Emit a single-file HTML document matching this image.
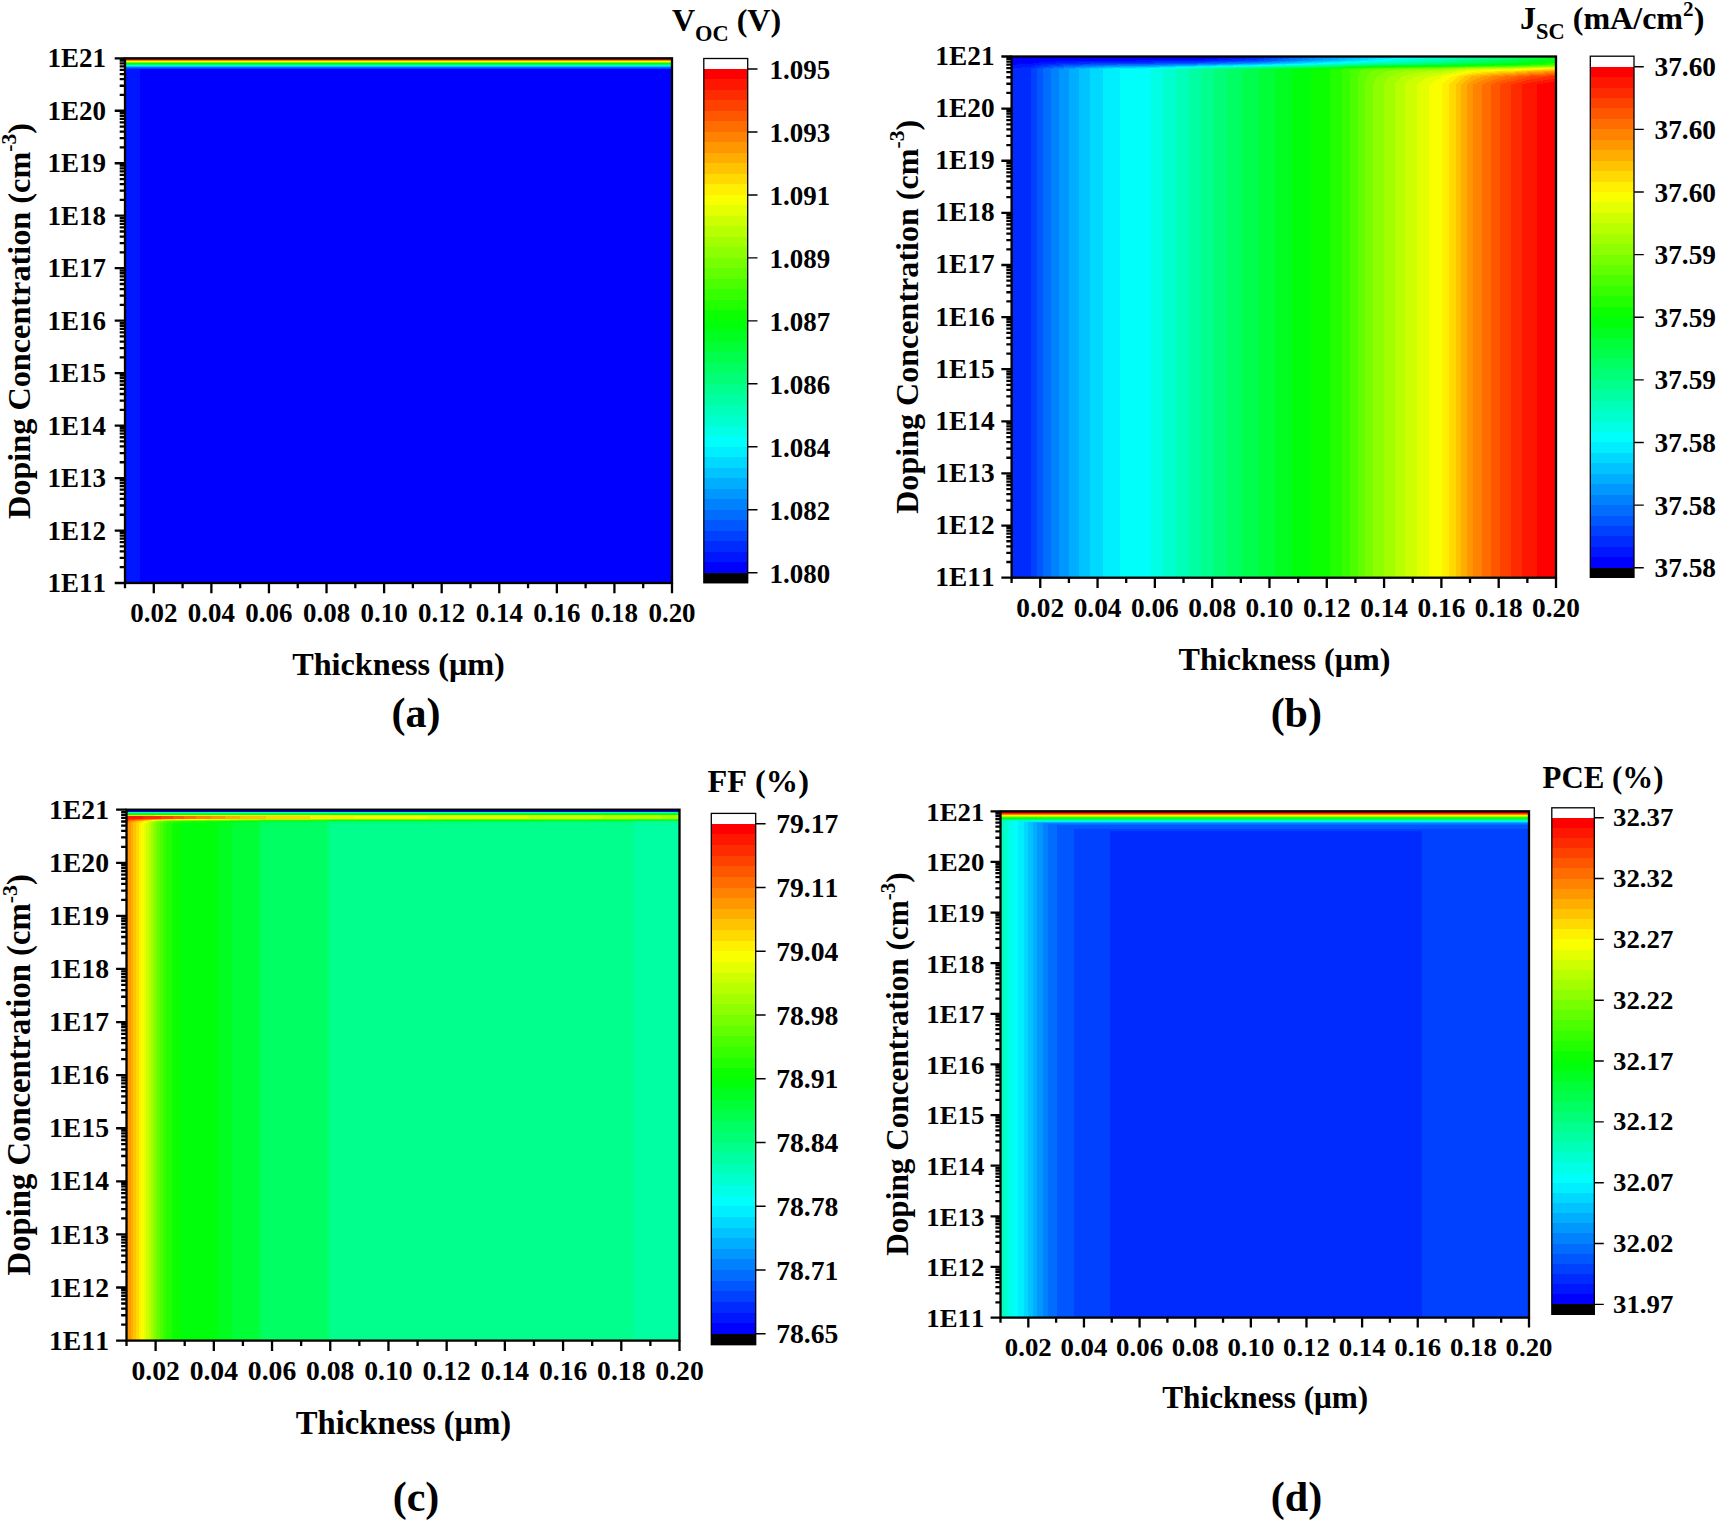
<!DOCTYPE html>
<html lang="en"><head><meta charset="utf-8"><title>Doping concentration vs thickness contour maps</title>
<style>html,body{margin:0;padding:0;background:#fff}body{width:1716px;height:1521px;overflow:hidden}svg{display:block}text{font-family:"Liberation Serif", "DejaVu Serif", serif;font-weight:bold;fill:#000;font-kerning:none;font-variant-ligatures:none}</style></head><body>
<svg width="1716" height="1521" viewBox="0 0 1716 1521">
<rect width="1716" height="1521" fill="#fff"/>
<g id="panel-a">
<g shape-rendering="crispEdges">
<rect x="125" y="58" width="547" height="1" fill="#ff0000"/>
<rect x="125" y="59" width="547" height="1" fill="#ff1600"/>
<rect x="125" y="60" width="547" height="1" fill="#ff8200"/>
<rect x="125" y="61" width="547" height="1" fill="#faff00"/>
<rect x="125" y="62" width="547" height="1" fill="#77ff00"/>
<rect x="125" y="63" width="547" height="1" fill="#00ff0b"/>
<rect x="125" y="64" width="547" height="1" fill="#00ff62"/>
<rect x="125" y="65" width="547" height="1" fill="#00ffce"/>
<rect x="125" y="66" width="547" height="1" fill="#00c3ff"/>
<rect x="125" y="67" width="547" height="1" fill="#006dff"/>
<rect x="125" y="68" width="547" height="1" fill="#0041ff"/>
<rect x="125" y="69" width="15" height="514" fill="#0016ff"/>
<rect x="140" y="69" width="532" height="514" fill="#0000ff"/>
</g>
<rect x="125" y="58.3" width="547" height="524.7" fill="none" stroke="#000" stroke-width="2.3"/>
<path d="M125 583H114.7M125 567.2H119.7M125 557.97H119.7M125 551.41H119.7M125 546.33H119.7M125 542.17H119.7M125 538.66H119.7M125 535.61H119.7M125 532.93H119.7M125 530.53H114.7M125 514.73H119.7M125 505.5H119.7M125 498.94H119.7M125 493.86H119.7M125 489.7H119.7M125 486.19H119.7M125 483.14H119.7M125 480.46H119.7M125 478.06H114.7M125 462.26H119.7M125 453.03H119.7M125 446.47H119.7M125 441.39H119.7M125 437.23H119.7M125 433.72H119.7M125 430.67H119.7M125 427.99H119.7M125 425.59H114.7M125 409.79H119.7M125 400.56H119.7M125 394H119.7M125 388.92H119.7M125 384.76H119.7M125 381.25H119.7M125 378.2H119.7M125 375.52H119.7M125 373.12H114.7M125 357.32H119.7M125 348.09H119.7M125 341.53H119.7M125 336.45H119.7M125 332.29H119.7M125 328.78H119.7M125 325.73H119.7M125 323.05H119.7M125 320.65H114.7M125 304.85H119.7M125 295.62H119.7M125 289.06H119.7M125 283.98H119.7M125 279.82H119.7M125 276.31H119.7M125 273.26H119.7M125 270.58H119.7M125 268.18H114.7M125 252.38H119.7M125 243.15H119.7M125 236.59H119.7M125 231.51H119.7M125 227.35H119.7M125 223.84H119.7M125 220.79H119.7M125 218.11H119.7M125 215.71H114.7M125 199.91H119.7M125 190.68H119.7M125 184.12H119.7M125 179.04H119.7M125 174.88H119.7M125 171.37H119.7M125 168.32H119.7M125 165.64H119.7M125 163.24H114.7M125 147.44H119.7M125 138.21H119.7M125 131.65H119.7M125 126.57H119.7M125 122.41H119.7M125 118.9H119.7M125 115.85H119.7M125 113.17H119.7M125 110.77H114.7M125 94.97H119.7M125 85.74H119.7M125 79.18H119.7M125 74.1H119.7M125 69.94H119.7M125 66.43H119.7M125 63.38H119.7M125 60.7H119.7M125 58.3H114.7M125 583V588.3M153.79 583V593.3M182.58 583V588.3M211.37 583V593.3M240.16 583V588.3M268.95 583V593.3M297.74 583V588.3M326.53 583V593.3M355.32 583V588.3M384.11 583V593.3M412.89 583V588.3M441.68 583V593.3M470.47 583V588.3M499.26 583V593.3M528.05 583V588.3M556.84 583V593.3M585.63 583V588.3M614.42 583V593.3M643.21 583V588.3M672 583V593.3" stroke="#000" stroke-width="2.3" fill="none"/>
<g font-size="26.7">
<text transform="translate(47.56 592.02) scale(1.01 1)">1E11</text>
<text transform="translate(47.56 539.55) scale(1.01 1)">1E12</text>
<text transform="translate(47.56 487.08) scale(1.01 1)">1E13</text>
<text transform="translate(47.56 434.61) scale(1.01 1)">1E14</text>
<text transform="translate(47.56 382.14) scale(1.01 1)">1E15</text>
<text transform="translate(47.56 329.67) scale(1.01 1)">1E16</text>
<text transform="translate(47.56 277.2) scale(1.01 1)">1E17</text>
<text transform="translate(47.56 224.73) scale(1.01 1)">1E18</text>
<text transform="translate(47.56 172.26) scale(1.01 1)">1E19</text>
<text transform="translate(47.56 119.79) scale(1.01 1)">1E20</text>
<text transform="translate(47.56 67.32) scale(1.01 1)">1E21</text>
</g>
<g font-size="26.7" text-anchor="middle">
<text transform="translate(153.79 621.65) scale(1.01 1)">0.02</text>
<text transform="translate(211.37 621.65) scale(1.01 1)">0.04</text>
<text transform="translate(268.95 621.65) scale(1.01 1)">0.06</text>
<text transform="translate(326.53 621.65) scale(1.01 1)">0.08</text>
<text transform="translate(384.11 621.65) scale(1.01 1)">0.10</text>
<text transform="translate(441.68 621.65) scale(1.01 1)">0.12</text>
<text transform="translate(499.26 621.65) scale(1.01 1)">0.14</text>
<text transform="translate(556.84 621.65) scale(1.01 1)">0.16</text>
<text transform="translate(614.42 621.65) scale(1.01 1)">0.18</text>
<text transform="translate(672 621.65) scale(1.01 1)">0.20</text>
</g>
<text x="398.5" y="674.6" font-size="32.26" text-anchor="middle">Thickness (μm)</text>
<text transform="translate(29.5 519) rotate(-90)" font-size="32.26">Doping Concentration (cm<tspan dy="-13.55" font-size="21.61">-3</tspan><tspan dy="13.55">)</tspan></text>
<text x="416" y="727" font-size="42" text-anchor="middle">(a)</text>
<g shape-rendering="crispEdges">
<rect x="704" y="69" width="44" height="10" fill="#ff0000"/>
<rect x="704" y="79" width="44" height="11" fill="#ff1600"/>
<rect x="704" y="90" width="44" height="10" fill="#ff2b00"/>
<rect x="704" y="100" width="44" height="11" fill="#ff4100"/>
<rect x="704" y="111" width="44" height="10" fill="#ff5700"/>
<rect x="704" y="121" width="44" height="11" fill="#ff6d00"/>
<rect x="704" y="132" width="44" height="10" fill="#ff8200"/>
<rect x="704" y="142" width="44" height="11" fill="#ff9800"/>
<rect x="704" y="153" width="44" height="10" fill="#ffae00"/>
<rect x="704" y="163" width="44" height="11" fill="#ffc300"/>
<rect x="704" y="174" width="44" height="10" fill="#ffd900"/>
<rect x="704" y="184" width="44" height="11" fill="#ffef00"/>
<rect x="704" y="195" width="44" height="10" fill="#faff00"/>
<rect x="704" y="205" width="44" height="11" fill="#e4ff00"/>
<rect x="704" y="216" width="44" height="10" fill="#ceff00"/>
<rect x="704" y="226" width="44" height="11" fill="#b8ff00"/>
<rect x="704" y="237" width="44" height="10" fill="#a3ff00"/>
<rect x="704" y="247" width="44" height="11" fill="#8dff00"/>
<rect x="704" y="258" width="44" height="10" fill="#77ff00"/>
<rect x="704" y="268" width="44" height="11" fill="#62ff00"/>
<rect x="704" y="279" width="44" height="10" fill="#4cff00"/>
<rect x="704" y="289" width="44" height="11" fill="#36ff00"/>
<rect x="704" y="300" width="44" height="10" fill="#21ff00"/>
<rect x="704" y="310" width="44" height="11" fill="#0bff00"/>
<rect x="704" y="321" width="44" height="10" fill="#00ff0b"/>
<rect x="704" y="331" width="44" height="11" fill="#00ff21"/>
<rect x="704" y="342" width="44" height="10" fill="#00ff36"/>
<rect x="704" y="352" width="44" height="11" fill="#00ff4c"/>
<rect x="704" y="363" width="44" height="10" fill="#00ff62"/>
<rect x="704" y="373" width="44" height="11" fill="#00ff77"/>
<rect x="704" y="384" width="44" height="10" fill="#00ff8d"/>
<rect x="704" y="394" width="44" height="11" fill="#00ffa3"/>
<rect x="704" y="405" width="44" height="10" fill="#00ffb8"/>
<rect x="704" y="415" width="44" height="11" fill="#00ffce"/>
<rect x="704" y="426" width="44" height="10" fill="#00ffe4"/>
<rect x="704" y="436" width="44" height="11" fill="#00fffa"/>
<rect x="704" y="447" width="44" height="10" fill="#00efff"/>
<rect x="704" y="457" width="44" height="11" fill="#00d9ff"/>
<rect x="704" y="468" width="44" height="10" fill="#00c3ff"/>
<rect x="704" y="478" width="44" height="11" fill="#00aeff"/>
<rect x="704" y="489" width="44" height="10" fill="#0098ff"/>
<rect x="704" y="499" width="44" height="11" fill="#0082ff"/>
<rect x="704" y="510" width="44" height="10" fill="#006dff"/>
<rect x="704" y="520" width="44" height="11" fill="#0057ff"/>
<rect x="704" y="531" width="44" height="10" fill="#0041ff"/>
<rect x="704" y="541" width="44" height="11" fill="#002bff"/>
<rect x="704" y="552" width="44" height="10" fill="#0016ff"/>
<rect x="704" y="562" width="44" height="11" fill="#0000ff"/>
<rect x="704" y="573" width="44" height="10" fill="#000"/>
</g>
<rect x="703.8" y="58.5" width="43.9" height="524.3" fill="none" stroke="#000" stroke-width="1.3"/>
<g font-size="26.7">
<text transform="translate(769.5 79.22) scale(1.01 1)">1.095</text>
<text transform="translate(769.5 142.19) scale(1.01 1)">1.093</text>
<text transform="translate(769.5 205.15) scale(1.01 1)">1.091</text>
<text transform="translate(769.5 268.11) scale(1.01 1)">1.089</text>
<text transform="translate(769.5 331.07) scale(1.01 1)">1.087</text>
<text transform="translate(769.5 394.04) scale(1.01 1)">1.086</text>
<text transform="translate(769.5 457) scale(1.01 1)">1.084</text>
<text transform="translate(769.5 519.96) scale(1.01 1)">1.082</text>
<text transform="translate(769.5 582.92) scale(1.01 1)">1.080</text>
</g>
<path d="M748 69H757.5M748 131.96H757.5M748 194.93H757.5M748 257.89H757.5M748 320.85H757.5M748 383.81H757.5M748 446.78H757.5M748 509.74H757.5M748 572.7H757.5" stroke="#000" stroke-width="1.4" fill="none"/>
<text x="672" y="31.3" font-size="32">V<tspan dy="9.28" font-size="22.4">OC</tspan><tspan dy="-9.28"> (V)</tspan></text>
</g>
<g id="panel-b">
<g shape-rendering="crispEdges">
<rect x="1011" y="56" width="219" height="2" fill="#0000ff"/>
<rect x="1230" y="56" width="28" height="2" fill="#0016ff"/>
<rect x="1258" y="56" width="12" height="2" fill="#002bff"/>
<rect x="1270" y="56" width="13" height="2" fill="#0041ff"/>
<rect x="1283" y="56" width="12" height="2" fill="#0057ff"/>
<rect x="1295" y="56" width="13" height="2" fill="#006dff"/>
<rect x="1308" y="56" width="15" height="2" fill="#0082ff"/>
<rect x="1323" y="56" width="15" height="2" fill="#0098ff"/>
<rect x="1338" y="56" width="15" height="2" fill="#00aeff"/>
<rect x="1353" y="56" width="15" height="2" fill="#00c3ff"/>
<rect x="1368" y="56" width="15" height="2" fill="#00d9ff"/>
<rect x="1383" y="56" width="15" height="2" fill="#00efff"/>
<rect x="1398" y="56" width="17" height="2" fill="#00fffa"/>
<rect x="1415" y="56" width="17" height="2" fill="#00ffe4"/>
<rect x="1432" y="56" width="17" height="2" fill="#00ffce"/>
<rect x="1449" y="56" width="16" height="2" fill="#00ffb8"/>
<rect x="1465" y="56" width="16" height="2" fill="#00ffa3"/>
<rect x="1481" y="56" width="17" height="2" fill="#00ff8d"/>
<rect x="1498" y="56" width="14" height="2" fill="#00ff77"/>
<rect x="1512" y="56" width="15" height="2" fill="#00ff62"/>
<rect x="1527" y="56" width="14" height="2" fill="#00ff4c"/>
<rect x="1541" y="56" width="14" height="2" fill="#00ff36"/>
<rect x="1555" y="56" width="1" height="2" fill="#00ff21"/>
<rect x="1011" y="58" width="206" height="1" fill="#0000ff"/>
<rect x="1217" y="58" width="28" height="1" fill="#0016ff"/>
<rect x="1245" y="58" width="19" height="1" fill="#002bff"/>
<rect x="1264" y="58" width="13" height="1" fill="#0041ff"/>
<rect x="1277" y="58" width="12" height="1" fill="#0057ff"/>
<rect x="1289" y="58" width="13" height="1" fill="#006dff"/>
<rect x="1302" y="58" width="13" height="1" fill="#0082ff"/>
<rect x="1315" y="58" width="16" height="1" fill="#0098ff"/>
<rect x="1331" y="58" width="15" height="1" fill="#00aeff"/>
<rect x="1346" y="58" width="14" height="1" fill="#00c3ff"/>
<rect x="1360" y="58" width="15" height="1" fill="#00d9ff"/>
<rect x="1375" y="58" width="16" height="1" fill="#00efff"/>
<rect x="1391" y="58" width="16" height="1" fill="#00fffa"/>
<rect x="1407" y="58" width="17" height="1" fill="#00ffe4"/>
<rect x="1424" y="58" width="17" height="1" fill="#00ffce"/>
<rect x="1441" y="58" width="16" height="1" fill="#00ffb8"/>
<rect x="1457" y="58" width="16" height="1" fill="#00ffa3"/>
<rect x="1473" y="58" width="16" height="1" fill="#00ff8d"/>
<rect x="1489" y="58" width="16" height="1" fill="#00ff77"/>
<rect x="1505" y="58" width="14" height="1" fill="#00ff62"/>
<rect x="1519" y="58" width="14" height="1" fill="#00ff4c"/>
<rect x="1533" y="58" width="14" height="1" fill="#00ff36"/>
<rect x="1547" y="58" width="9" height="1" fill="#00ff21"/>
<rect x="1011" y="59" width="194" height="1" fill="#0000ff"/>
<rect x="1205" y="59" width="26" height="1" fill="#0016ff"/>
<rect x="1231" y="59" width="26" height="1" fill="#002bff"/>
<rect x="1257" y="59" width="13" height="1" fill="#0041ff"/>
<rect x="1270" y="59" width="13" height="1" fill="#0057ff"/>
<rect x="1283" y="59" width="13" height="1" fill="#006dff"/>
<rect x="1296" y="59" width="13" height="1" fill="#0082ff"/>
<rect x="1309" y="59" width="14" height="1" fill="#0098ff"/>
<rect x="1323" y="59" width="16" height="1" fill="#00aeff"/>
<rect x="1339" y="59" width="14" height="1" fill="#00c3ff"/>
<rect x="1353" y="59" width="15" height="1" fill="#00d9ff"/>
<rect x="1368" y="59" width="15" height="1" fill="#00efff"/>
<rect x="1383" y="59" width="15" height="1" fill="#00fffa"/>
<rect x="1398" y="59" width="17" height="1" fill="#00ffe4"/>
<rect x="1415" y="59" width="17" height="1" fill="#00ffce"/>
<rect x="1432" y="59" width="17" height="1" fill="#00ffb8"/>
<rect x="1449" y="59" width="16" height="1" fill="#00ffa3"/>
<rect x="1465" y="59" width="16" height="1" fill="#00ff8d"/>
<rect x="1481" y="59" width="16" height="1" fill="#00ff77"/>
<rect x="1497" y="59" width="15" height="1" fill="#00ff62"/>
<rect x="1512" y="59" width="14" height="1" fill="#00ff4c"/>
<rect x="1526" y="59" width="14" height="1" fill="#00ff36"/>
<rect x="1540" y="59" width="14" height="1" fill="#00ff21"/>
<rect x="1554" y="59" width="2" height="1" fill="#00ff0b"/>
<rect x="1011" y="60" width="125" height="1" fill="#0000ff"/>
<rect x="1136" y="60" width="83" height="1" fill="#0016ff"/>
<rect x="1219" y="60" width="26" height="1" fill="#002bff"/>
<rect x="1245" y="60" width="19" height="1" fill="#0041ff"/>
<rect x="1264" y="60" width="13" height="1" fill="#0057ff"/>
<rect x="1277" y="60" width="13" height="1" fill="#006dff"/>
<rect x="1290" y="60" width="12" height="1" fill="#0082ff"/>
<rect x="1302" y="60" width="14" height="1" fill="#0098ff"/>
<rect x="1316" y="60" width="16" height="1" fill="#00aeff"/>
<rect x="1332" y="60" width="14" height="1" fill="#00c3ff"/>
<rect x="1346" y="60" width="15" height="1" fill="#00d9ff"/>
<rect x="1361" y="60" width="14" height="1" fill="#00efff"/>
<rect x="1375" y="60" width="15" height="1" fill="#00fffa"/>
<rect x="1390" y="60" width="17" height="1" fill="#00ffe4"/>
<rect x="1407" y="60" width="17" height="1" fill="#00ffce"/>
<rect x="1424" y="60" width="17" height="1" fill="#00ffb8"/>
<rect x="1441" y="60" width="16" height="1" fill="#00ffa3"/>
<rect x="1457" y="60" width="15" height="1" fill="#00ff8d"/>
<rect x="1472" y="60" width="16" height="1" fill="#00ff77"/>
<rect x="1488" y="60" width="16" height="1" fill="#00ff62"/>
<rect x="1504" y="60" width="14" height="1" fill="#00ff4c"/>
<rect x="1518" y="60" width="14" height="1" fill="#00ff36"/>
<rect x="1532" y="60" width="15" height="1" fill="#00ff21"/>
<rect x="1547" y="60" width="9" height="1" fill="#00ff0b"/>
<rect x="1011" y="61" width="44" height="1" fill="#0000ff"/>
<rect x="1055" y="61" width="96" height="1" fill="#0016ff"/>
<rect x="1151" y="61" width="60" height="1" fill="#002bff"/>
<rect x="1211" y="61" width="25" height="1" fill="#0041ff"/>
<rect x="1236" y="61" width="23" height="1" fill="#0057ff"/>
<rect x="1259" y="61" width="13" height="1" fill="#006dff"/>
<rect x="1272" y="61" width="13" height="1" fill="#0082ff"/>
<rect x="1285" y="61" width="13" height="1" fill="#0098ff"/>
<rect x="1298" y="61" width="14" height="1" fill="#00aeff"/>
<rect x="1312" y="61" width="15" height="1" fill="#00c3ff"/>
<rect x="1327" y="61" width="15" height="1" fill="#00d9ff"/>
<rect x="1342" y="61" width="14" height="1" fill="#00efff"/>
<rect x="1356" y="61" width="15" height="1" fill="#00fffa"/>
<rect x="1371" y="61" width="16" height="1" fill="#00ffe4"/>
<rect x="1387" y="61" width="17" height="1" fill="#00ffce"/>
<rect x="1404" y="61" width="19" height="1" fill="#00ffb8"/>
<rect x="1423" y="61" width="19" height="1" fill="#00ffa3"/>
<rect x="1442" y="61" width="17" height="1" fill="#00ff8d"/>
<rect x="1459" y="61" width="16" height="1" fill="#00ff77"/>
<rect x="1475" y="61" width="18" height="1" fill="#00ff62"/>
<rect x="1493" y="61" width="18" height="1" fill="#00ff4c"/>
<rect x="1511" y="61" width="14" height="1" fill="#00ff36"/>
<rect x="1525" y="61" width="14" height="1" fill="#00ff21"/>
<rect x="1539" y="61" width="15" height="1" fill="#00ff0b"/>
<rect x="1554" y="61" width="2" height="1" fill="#0bff00"/>
<rect x="1011" y="62" width="28" height="1" fill="#0000ff"/>
<rect x="1039" y="62" width="38" height="1" fill="#0016ff"/>
<rect x="1077" y="62" width="77" height="1" fill="#002bff"/>
<rect x="1154" y="62" width="51" height="1" fill="#0041ff"/>
<rect x="1205" y="62" width="22" height="1" fill="#0057ff"/>
<rect x="1227" y="62" width="24" height="1" fill="#006dff"/>
<rect x="1251" y="62" width="16" height="1" fill="#0082ff"/>
<rect x="1267" y="62" width="13" height="1" fill="#0098ff"/>
<rect x="1280" y="62" width="14" height="1" fill="#00aeff"/>
<rect x="1294" y="62" width="13" height="1" fill="#00c3ff"/>
<rect x="1307" y="62" width="16" height="1" fill="#00d9ff"/>
<rect x="1323" y="62" width="15" height="1" fill="#00efff"/>
<rect x="1338" y="62" width="13" height="1" fill="#00fffa"/>
<rect x="1351" y="62" width="15" height="1" fill="#00ffe4"/>
<rect x="1366" y="62" width="17" height="1" fill="#00ffce"/>
<rect x="1383" y="62" width="18" height="1" fill="#00ffb8"/>
<rect x="1401" y="62" width="21" height="1" fill="#00ffa3"/>
<rect x="1422" y="62" width="22" height="1" fill="#00ff8d"/>
<rect x="1444" y="62" width="17" height="1" fill="#00ff77"/>
<rect x="1461" y="62" width="19" height="1" fill="#00ff62"/>
<rect x="1480" y="62" width="20" height="1" fill="#00ff4c"/>
<rect x="1500" y="62" width="18" height="1" fill="#00ff36"/>
<rect x="1518" y="62" width="14" height="1" fill="#00ff21"/>
<rect x="1532" y="62" width="14" height="1" fill="#00ff0b"/>
<rect x="1546" y="62" width="10" height="1" fill="#0bff00"/>
<rect x="1011" y="63" width="22" height="1" fill="#0000ff"/>
<rect x="1033" y="63" width="23" height="1" fill="#0016ff"/>
<rect x="1056" y="63" width="34" height="1" fill="#002bff"/>
<rect x="1090" y="63" width="65" height="1" fill="#0041ff"/>
<rect x="1155" y="63" width="42" height="1" fill="#0057ff"/>
<rect x="1197" y="63" width="23" height="1" fill="#006dff"/>
<rect x="1220" y="63" width="23" height="1" fill="#0082ff"/>
<rect x="1243" y="63" width="19" height="1" fill="#0098ff"/>
<rect x="1262" y="63" width="13" height="1" fill="#00aeff"/>
<rect x="1275" y="63" width="14" height="1" fill="#00c3ff"/>
<rect x="1289" y="63" width="14" height="1" fill="#00d9ff"/>
<rect x="1303" y="63" width="15" height="1" fill="#00efff"/>
<rect x="1318" y="63" width="16" height="1" fill="#00fffa"/>
<rect x="1334" y="63" width="13" height="1" fill="#00ffe4"/>
<rect x="1347" y="63" width="14" height="1" fill="#00ffce"/>
<rect x="1361" y="63" width="16" height="1" fill="#00ffb8"/>
<rect x="1377" y="63" width="19" height="1" fill="#00ffa3"/>
<rect x="1396" y="63" width="21" height="1" fill="#00ff8d"/>
<rect x="1417" y="63" width="24" height="1" fill="#00ff77"/>
<rect x="1441" y="63" width="18" height="1" fill="#00ff62"/>
<rect x="1459" y="63" width="17" height="1" fill="#00ff4c"/>
<rect x="1476" y="63" width="22" height="1" fill="#00ff36"/>
<rect x="1498" y="63" width="19" height="1" fill="#00ff21"/>
<rect x="1517" y="63" width="14" height="1" fill="#00ff0b"/>
<rect x="1531" y="63" width="15" height="1" fill="#0bff00"/>
<rect x="1546" y="63" width="10" height="1" fill="#21ff00"/>
<rect x="1011" y="64" width="6" height="1" fill="#0000ff"/>
<rect x="1017" y="64" width="24" height="1" fill="#0016ff"/>
<rect x="1041" y="64" width="19" height="1" fill="#002bff"/>
<rect x="1060" y="64" width="24" height="1" fill="#0041ff"/>
<rect x="1084" y="64" width="33" height="1" fill="#0057ff"/>
<rect x="1117" y="64" width="50" height="1" fill="#006dff"/>
<rect x="1167" y="64" width="30" height="1" fill="#0082ff"/>
<rect x="1197" y="64" width="21" height="1" fill="#0098ff"/>
<rect x="1218" y="64" width="20" height="1" fill="#00aeff"/>
<rect x="1238" y="64" width="20" height="1" fill="#00c3ff"/>
<rect x="1258" y="64" width="14" height="1" fill="#00d9ff"/>
<rect x="1272" y="64" width="14" height="1" fill="#00efff"/>
<rect x="1286" y="64" width="15" height="1" fill="#00fffa"/>
<rect x="1301" y="64" width="15" height="1" fill="#00ffe4"/>
<rect x="1316" y="64" width="16" height="1" fill="#00ffce"/>
<rect x="1332" y="64" width="13" height="1" fill="#00ffb8"/>
<rect x="1345" y="64" width="14" height="1" fill="#00ffa3"/>
<rect x="1359" y="64" width="16" height="1" fill="#00ff8d"/>
<rect x="1375" y="64" width="22" height="1" fill="#00ff77"/>
<rect x="1397" y="64" width="26" height="1" fill="#00ff62"/>
<rect x="1423" y="64" width="26" height="1" fill="#00ff4c"/>
<rect x="1449" y="64" width="18" height="1" fill="#00ff36"/>
<rect x="1467" y="64" width="25" height="1" fill="#00ff21"/>
<rect x="1492" y="64" width="24" height="1" fill="#00ff0b"/>
<rect x="1516" y="64" width="14" height="1" fill="#0bff00"/>
<rect x="1530" y="64" width="15" height="1" fill="#21ff00"/>
<rect x="1545" y="64" width="11" height="1" fill="#36ff00"/>
<rect x="1011" y="65" width="24" height="1" fill="#0016ff"/>
<rect x="1035" y="65" width="13" height="1" fill="#002bff"/>
<rect x="1048" y="65" width="15" height="1" fill="#0041ff"/>
<rect x="1063" y="65" width="19" height="1" fill="#0057ff"/>
<rect x="1082" y="65" width="22" height="1" fill="#006dff"/>
<rect x="1104" y="65" width="46" height="1" fill="#0082ff"/>
<rect x="1150" y="65" width="24" height="1" fill="#0098ff"/>
<rect x="1174" y="65" width="23" height="1" fill="#00aeff"/>
<rect x="1197" y="65" width="19" height="1" fill="#00c3ff"/>
<rect x="1216" y="65" width="17" height="1" fill="#00d9ff"/>
<rect x="1233" y="65" width="20" height="1" fill="#00efff"/>
<rect x="1253" y="65" width="16" height="1" fill="#00fffa"/>
<rect x="1269" y="65" width="14" height="1" fill="#00ffe4"/>
<rect x="1283" y="65" width="15" height="1" fill="#00ffce"/>
<rect x="1298" y="65" width="16" height="1" fill="#00ffb8"/>
<rect x="1314" y="65" width="17" height="1" fill="#00ffa3"/>
<rect x="1331" y="65" width="13" height="1" fill="#00ff8d"/>
<rect x="1344" y="65" width="12" height="1" fill="#00ff77"/>
<rect x="1356" y="65" width="15" height="1" fill="#00ff62"/>
<rect x="1371" y="65" width="22" height="1" fill="#00ff4c"/>
<rect x="1393" y="65" width="28" height="1" fill="#00ff36"/>
<rect x="1421" y="65" width="28" height="1" fill="#00ff21"/>
<rect x="1449" y="65" width="18" height="1" fill="#00ff0b"/>
<rect x="1467" y="65" width="27" height="1" fill="#0bff00"/>
<rect x="1494" y="65" width="25" height="1" fill="#21ff00"/>
<rect x="1519" y="65" width="13" height="1" fill="#36ff00"/>
<rect x="1532" y="65" width="16" height="1" fill="#4cff00"/>
<rect x="1548" y="65" width="8" height="1" fill="#62ff00"/>
<rect x="1011" y="66" width="20" height="1" fill="#0016ff"/>
<rect x="1031" y="66" width="9" height="1" fill="#002bff"/>
<rect x="1040" y="66" width="11" height="1" fill="#0041ff"/>
<rect x="1051" y="66" width="13" height="1" fill="#0057ff"/>
<rect x="1064" y="66" width="15" height="1" fill="#006dff"/>
<rect x="1079" y="66" width="17" height="1" fill="#0082ff"/>
<rect x="1096" y="66" width="24" height="1" fill="#0098ff"/>
<rect x="1120" y="66" width="37" height="1" fill="#00aeff"/>
<rect x="1157" y="66" width="19" height="1" fill="#00c3ff"/>
<rect x="1176" y="66" width="19" height="1" fill="#00d9ff"/>
<rect x="1195" y="66" width="17" height="1" fill="#00efff"/>
<rect x="1212" y="66" width="15" height="1" fill="#00fffa"/>
<rect x="1227" y="66" width="19" height="1" fill="#00ffe4"/>
<rect x="1246" y="66" width="17" height="1" fill="#00ffce"/>
<rect x="1263" y="66" width="15" height="1" fill="#00ffb8"/>
<rect x="1278" y="66" width="16" height="1" fill="#00ffa3"/>
<rect x="1294" y="66" width="16" height="1" fill="#00ff8d"/>
<rect x="1310" y="66" width="17" height="1" fill="#00ff77"/>
<rect x="1327" y="66" width="15" height="1" fill="#00ff62"/>
<rect x="1342" y="66" width="9" height="1" fill="#00ff4c"/>
<rect x="1351" y="66" width="14" height="1" fill="#00ff36"/>
<rect x="1365" y="66" width="19" height="1" fill="#00ff21"/>
<rect x="1384" y="66" width="24" height="1" fill="#00ff0b"/>
<rect x="1408" y="66" width="33" height="1" fill="#0bff00"/>
<rect x="1441" y="66" width="18" height="1" fill="#21ff00"/>
<rect x="1459" y="66" width="16" height="1" fill="#36ff00"/>
<rect x="1475" y="66" width="32" height="1" fill="#4cff00"/>
<rect x="1507" y="66" width="17" height="1" fill="#62ff00"/>
<rect x="1524" y="66" width="14" height="1" fill="#77ff00"/>
<rect x="1538" y="66" width="16" height="1" fill="#8dff00"/>
<rect x="1554" y="66" width="2" height="1" fill="#a3ff00"/>
<rect x="1011" y="67" width="10" height="1" fill="#0016ff"/>
<rect x="1021" y="67" width="15" height="1" fill="#002bff"/>
<rect x="1036" y="67" width="7" height="1" fill="#0041ff"/>
<rect x="1043" y="67" width="10" height="1" fill="#0057ff"/>
<rect x="1053" y="67" width="11" height="1" fill="#006dff"/>
<rect x="1064" y="67" width="12" height="1" fill="#0082ff"/>
<rect x="1076" y="67" width="14" height="1" fill="#0098ff"/>
<rect x="1090" y="67" width="16" height="1" fill="#00aeff"/>
<rect x="1106" y="67" width="30" height="1" fill="#00c3ff"/>
<rect x="1136" y="67" width="24" height="1" fill="#00d9ff"/>
<rect x="1160" y="67" width="16" height="1" fill="#00efff"/>
<rect x="1176" y="67" width="16" height="1" fill="#00fffa"/>
<rect x="1192" y="67" width="15" height="1" fill="#00ffe4"/>
<rect x="1207" y="67" width="14" height="1" fill="#00ffce"/>
<rect x="1221" y="67" width="16" height="1" fill="#00ffb8"/>
<rect x="1237" y="67" width="18" height="1" fill="#00ffa3"/>
<rect x="1255" y="67" width="16" height="1" fill="#00ff8d"/>
<rect x="1271" y="67" width="15" height="1" fill="#00ff77"/>
<rect x="1286" y="67" width="17" height="1" fill="#00ff62"/>
<rect x="1303" y="67" width="18" height="1" fill="#00ff4c"/>
<rect x="1321" y="67" width="18" height="1" fill="#00ff36"/>
<rect x="1339" y="67" width="8" height="1" fill="#00ff21"/>
<rect x="1347" y="67" width="12" height="1" fill="#00ff0b"/>
<rect x="1359" y="67" width="13" height="1" fill="#0bff00"/>
<rect x="1372" y="67" width="23" height="1" fill="#21ff00"/>
<rect x="1395" y="67" width="29" height="1" fill="#36ff00"/>
<rect x="1424" y="67" width="26" height="1" fill="#4cff00"/>
<rect x="1450" y="67" width="15" height="1" fill="#62ff00"/>
<rect x="1465" y="67" width="21" height="1" fill="#77ff00"/>
<rect x="1486" y="67" width="30" height="1" fill="#8dff00"/>
<rect x="1516" y="67" width="12" height="1" fill="#a3ff00"/>
<rect x="1528" y="67" width="16" height="1" fill="#b8ff00"/>
<rect x="1544" y="67" width="12" height="1" fill="#ceff00"/>
<rect x="1011" y="68" width="22" height="1" fill="#002bff"/>
<rect x="1033" y="68" width="6" height="1" fill="#0041ff"/>
<rect x="1039" y="68" width="7" height="1" fill="#0057ff"/>
<rect x="1046" y="68" width="8" height="1" fill="#006dff"/>
<rect x="1054" y="68" width="10" height="1" fill="#0082ff"/>
<rect x="1064" y="68" width="11" height="1" fill="#0098ff"/>
<rect x="1075" y="68" width="11" height="1" fill="#00aeff"/>
<rect x="1086" y="68" width="13" height="1" fill="#00c3ff"/>
<rect x="1099" y="68" width="14" height="1" fill="#00d9ff"/>
<rect x="1113" y="68" width="34" height="1" fill="#00efff"/>
<rect x="1147" y="68" width="16" height="1" fill="#00fffa"/>
<rect x="1163" y="68" width="13" height="1" fill="#00ffe4"/>
<rect x="1176" y="68" width="13" height="1" fill="#00ffce"/>
<rect x="1189" y="68" width="14" height="1" fill="#00ffb8"/>
<rect x="1203" y="68" width="13" height="1" fill="#00ffa3"/>
<rect x="1216" y="68" width="14" height="1" fill="#00ff8d"/>
<rect x="1230" y="68" width="16" height="1" fill="#00ff77"/>
<rect x="1246" y="68" width="17" height="1" fill="#00ff62"/>
<rect x="1263" y="68" width="16" height="1" fill="#00ff4c"/>
<rect x="1279" y="68" width="17" height="1" fill="#00ff36"/>
<rect x="1296" y="68" width="18" height="1" fill="#00ff21"/>
<rect x="1314" y="68" width="19" height="1" fill="#00ff0b"/>
<rect x="1333" y="68" width="11" height="1" fill="#0bff00"/>
<rect x="1344" y="68" width="9" height="1" fill="#21ff00"/>
<rect x="1353" y="68" width="12" height="1" fill="#36ff00"/>
<rect x="1365" y="68" width="18" height="1" fill="#4cff00"/>
<rect x="1383" y="68" width="25" height="1" fill="#62ff00"/>
<rect x="1408" y="68" width="35" height="1" fill="#77ff00"/>
<rect x="1443" y="68" width="15" height="1" fill="#8dff00"/>
<rect x="1458" y="68" width="12" height="1" fill="#a3ff00"/>
<rect x="1470" y="68" width="26" height="1" fill="#b8ff00"/>
<rect x="1496" y="68" width="24" height="1" fill="#ceff00"/>
<rect x="1520" y="68" width="14" height="1" fill="#e4ff00"/>
<rect x="1534" y="68" width="16" height="1" fill="#faff00"/>
<rect x="1550" y="68" width="6" height="1" fill="#ffef00"/>
<rect x="1011" y="69" width="20" height="1" fill="#002bff"/>
<rect x="1031" y="69" width="6" height="1" fill="#0041ff"/>
<rect x="1037" y="69" width="6" height="1" fill="#0057ff"/>
<rect x="1043" y="69" width="8" height="1" fill="#006dff"/>
<rect x="1051" y="69" width="8" height="1" fill="#0082ff"/>
<rect x="1059" y="69" width="10" height="1" fill="#0098ff"/>
<rect x="1069" y="69" width="10" height="1" fill="#00aeff"/>
<rect x="1079" y="69" width="11" height="1" fill="#00c3ff"/>
<rect x="1090" y="69" width="13" height="1" fill="#00d9ff"/>
<rect x="1103" y="69" width="17" height="1" fill="#00efff"/>
<rect x="1120" y="69" width="31" height="1" fill="#00fffa"/>
<rect x="1151" y="69" width="12" height="1" fill="#00ffe4"/>
<rect x="1163" y="69" width="13" height="1" fill="#00ffce"/>
<rect x="1176" y="69" width="13" height="1" fill="#00ffb8"/>
<rect x="1189" y="69" width="12" height="1" fill="#00ffa3"/>
<rect x="1201" y="69" width="13" height="1" fill="#00ff8d"/>
<rect x="1214" y="69" width="13" height="1" fill="#00ff77"/>
<rect x="1227" y="69" width="15" height="1" fill="#00ff62"/>
<rect x="1242" y="69" width="17" height="1" fill="#00ff4c"/>
<rect x="1259" y="69" width="16" height="1" fill="#00ff36"/>
<rect x="1275" y="69" width="17" height="1" fill="#00ff21"/>
<rect x="1292" y="69" width="19" height="1" fill="#00ff0b"/>
<rect x="1311" y="69" width="19" height="1" fill="#0bff00"/>
<rect x="1330" y="69" width="12" height="1" fill="#21ff00"/>
<rect x="1342" y="69" width="8" height="1" fill="#36ff00"/>
<rect x="1350" y="69" width="12" height="1" fill="#4cff00"/>
<rect x="1362" y="69" width="15" height="1" fill="#62ff00"/>
<rect x="1377" y="69" width="23" height="1" fill="#77ff00"/>
<rect x="1400" y="69" width="33" height="1" fill="#8dff00"/>
<rect x="1433" y="69" width="20" height="1" fill="#a3ff00"/>
<rect x="1453" y="69" width="12" height="1" fill="#b8ff00"/>
<rect x="1465" y="69" width="17" height="1" fill="#ceff00"/>
<rect x="1482" y="69" width="32" height="1" fill="#e4ff00"/>
<rect x="1514" y="69" width="13" height="1" fill="#faff00"/>
<rect x="1527" y="69" width="16" height="1" fill="#ffef00"/>
<rect x="1543" y="69" width="13" height="1" fill="#ffd900"/>
<rect x="1011" y="70" width="20" height="1" fill="#002bff"/>
<rect x="1031" y="70" width="6" height="1" fill="#0041ff"/>
<rect x="1037" y="70" width="6" height="1" fill="#0057ff"/>
<rect x="1043" y="70" width="8" height="1" fill="#006dff"/>
<rect x="1051" y="70" width="8" height="1" fill="#0082ff"/>
<rect x="1059" y="70" width="10" height="1" fill="#0098ff"/>
<rect x="1069" y="70" width="10" height="1" fill="#00aeff"/>
<rect x="1079" y="70" width="11" height="1" fill="#00c3ff"/>
<rect x="1090" y="70" width="13" height="1" fill="#00d9ff"/>
<rect x="1103" y="70" width="17" height="1" fill="#00efff"/>
<rect x="1120" y="70" width="31" height="1" fill="#00fffa"/>
<rect x="1151" y="70" width="12" height="1" fill="#00ffe4"/>
<rect x="1163" y="70" width="13" height="1" fill="#00ffce"/>
<rect x="1176" y="70" width="13" height="1" fill="#00ffb8"/>
<rect x="1189" y="70" width="12" height="1" fill="#00ffa3"/>
<rect x="1201" y="70" width="13" height="1" fill="#00ff8d"/>
<rect x="1214" y="70" width="13" height="1" fill="#00ff77"/>
<rect x="1227" y="70" width="15" height="1" fill="#00ff62"/>
<rect x="1242" y="70" width="17" height="1" fill="#00ff4c"/>
<rect x="1259" y="70" width="16" height="1" fill="#00ff36"/>
<rect x="1275" y="70" width="17" height="1" fill="#00ff21"/>
<rect x="1292" y="70" width="19" height="1" fill="#00ff0b"/>
<rect x="1311" y="70" width="19" height="1" fill="#0bff00"/>
<rect x="1330" y="70" width="12" height="1" fill="#21ff00"/>
<rect x="1342" y="70" width="8" height="1" fill="#36ff00"/>
<rect x="1350" y="70" width="11" height="1" fill="#4cff00"/>
<rect x="1361" y="70" width="12" height="1" fill="#62ff00"/>
<rect x="1373" y="70" width="20" height="1" fill="#77ff00"/>
<rect x="1393" y="70" width="21" height="1" fill="#8dff00"/>
<rect x="1414" y="70" width="29" height="1" fill="#a3ff00"/>
<rect x="1443" y="70" width="12" height="1" fill="#b8ff00"/>
<rect x="1455" y="70" width="10" height="1" fill="#ceff00"/>
<rect x="1465" y="70" width="14" height="1" fill="#e4ff00"/>
<rect x="1479" y="70" width="22" height="1" fill="#faff00"/>
<rect x="1501" y="70" width="20" height="1" fill="#ffef00"/>
<rect x="1521" y="70" width="13" height="1" fill="#ffd900"/>
<rect x="1534" y="70" width="17" height="1" fill="#ffc300"/>
<rect x="1551" y="70" width="5" height="1" fill="#ffae00"/>
<rect x="1011" y="71" width="20" height="1" fill="#002bff"/>
<rect x="1031" y="71" width="6" height="1" fill="#0041ff"/>
<rect x="1037" y="71" width="6" height="1" fill="#0057ff"/>
<rect x="1043" y="71" width="8" height="1" fill="#006dff"/>
<rect x="1051" y="71" width="8" height="1" fill="#0082ff"/>
<rect x="1059" y="71" width="10" height="1" fill="#0098ff"/>
<rect x="1069" y="71" width="10" height="1" fill="#00aeff"/>
<rect x="1079" y="71" width="11" height="1" fill="#00c3ff"/>
<rect x="1090" y="71" width="13" height="1" fill="#00d9ff"/>
<rect x="1103" y="71" width="17" height="1" fill="#00efff"/>
<rect x="1120" y="71" width="31" height="1" fill="#00fffa"/>
<rect x="1151" y="71" width="12" height="1" fill="#00ffe4"/>
<rect x="1163" y="71" width="13" height="1" fill="#00ffce"/>
<rect x="1176" y="71" width="13" height="1" fill="#00ffb8"/>
<rect x="1189" y="71" width="12" height="1" fill="#00ffa3"/>
<rect x="1201" y="71" width="13" height="1" fill="#00ff8d"/>
<rect x="1214" y="71" width="13" height="1" fill="#00ff77"/>
<rect x="1227" y="71" width="15" height="1" fill="#00ff62"/>
<rect x="1242" y="71" width="17" height="1" fill="#00ff4c"/>
<rect x="1259" y="71" width="16" height="1" fill="#00ff36"/>
<rect x="1275" y="71" width="17" height="1" fill="#00ff21"/>
<rect x="1292" y="71" width="19" height="1" fill="#00ff0b"/>
<rect x="1311" y="71" width="19" height="1" fill="#0bff00"/>
<rect x="1330" y="71" width="12" height="1" fill="#21ff00"/>
<rect x="1342" y="71" width="8" height="1" fill="#36ff00"/>
<rect x="1350" y="71" width="10" height="1" fill="#4cff00"/>
<rect x="1360" y="71" width="11" height="1" fill="#62ff00"/>
<rect x="1371" y="71" width="16" height="1" fill="#77ff00"/>
<rect x="1387" y="71" width="18" height="1" fill="#8dff00"/>
<rect x="1405" y="71" width="22" height="1" fill="#a3ff00"/>
<rect x="1427" y="71" width="19" height="1" fill="#b8ff00"/>
<rect x="1446" y="71" width="11" height="1" fill="#ceff00"/>
<rect x="1457" y="71" width="9" height="1" fill="#e4ff00"/>
<rect x="1466" y="71" width="11" height="1" fill="#faff00"/>
<rect x="1477" y="71" width="18" height="1" fill="#ffef00"/>
<rect x="1495" y="71" width="20" height="1" fill="#ffd900"/>
<rect x="1515" y="71" width="12" height="1" fill="#ffc300"/>
<rect x="1527" y="71" width="16" height="1" fill="#ffae00"/>
<rect x="1543" y="71" width="13" height="1" fill="#ff9800"/>
<rect x="1011" y="72" width="20" height="1" fill="#002bff"/>
<rect x="1031" y="72" width="6" height="1" fill="#0041ff"/>
<rect x="1037" y="72" width="6" height="1" fill="#0057ff"/>
<rect x="1043" y="72" width="8" height="1" fill="#006dff"/>
<rect x="1051" y="72" width="8" height="1" fill="#0082ff"/>
<rect x="1059" y="72" width="10" height="1" fill="#0098ff"/>
<rect x="1069" y="72" width="10" height="1" fill="#00aeff"/>
<rect x="1079" y="72" width="11" height="1" fill="#00c3ff"/>
<rect x="1090" y="72" width="13" height="1" fill="#00d9ff"/>
<rect x="1103" y="72" width="17" height="1" fill="#00efff"/>
<rect x="1120" y="72" width="31" height="1" fill="#00fffa"/>
<rect x="1151" y="72" width="12" height="1" fill="#00ffe4"/>
<rect x="1163" y="72" width="13" height="1" fill="#00ffce"/>
<rect x="1176" y="72" width="13" height="1" fill="#00ffb8"/>
<rect x="1189" y="72" width="12" height="1" fill="#00ffa3"/>
<rect x="1201" y="72" width="13" height="1" fill="#00ff8d"/>
<rect x="1214" y="72" width="13" height="1" fill="#00ff77"/>
<rect x="1227" y="72" width="15" height="1" fill="#00ff62"/>
<rect x="1242" y="72" width="17" height="1" fill="#00ff4c"/>
<rect x="1259" y="72" width="16" height="1" fill="#00ff36"/>
<rect x="1275" y="72" width="17" height="1" fill="#00ff21"/>
<rect x="1292" y="72" width="19" height="1" fill="#00ff0b"/>
<rect x="1311" y="72" width="19" height="1" fill="#0bff00"/>
<rect x="1330" y="72" width="12" height="1" fill="#21ff00"/>
<rect x="1342" y="72" width="8" height="1" fill="#36ff00"/>
<rect x="1350" y="72" width="10" height="1" fill="#4cff00"/>
<rect x="1360" y="72" width="10" height="1" fill="#62ff00"/>
<rect x="1370" y="72" width="15" height="1" fill="#77ff00"/>
<rect x="1385" y="72" width="16" height="1" fill="#8dff00"/>
<rect x="1401" y="72" width="18" height="1" fill="#a3ff00"/>
<rect x="1419" y="72" width="22" height="1" fill="#b8ff00"/>
<rect x="1441" y="72" width="11" height="1" fill="#ceff00"/>
<rect x="1452" y="72" width="9" height="1" fill="#e4ff00"/>
<rect x="1461" y="72" width="8" height="1" fill="#faff00"/>
<rect x="1469" y="72" width="13" height="1" fill="#ffef00"/>
<rect x="1482" y="72" width="15" height="1" fill="#ffd900"/>
<rect x="1497" y="72" width="18" height="1" fill="#ffc300"/>
<rect x="1515" y="72" width="12" height="1" fill="#ffae00"/>
<rect x="1527" y="72" width="17" height="1" fill="#ff9800"/>
<rect x="1544" y="72" width="12" height="1" fill="#ff8200"/>
<rect x="1011" y="73" width="20" height="1" fill="#002bff"/>
<rect x="1031" y="73" width="6" height="1" fill="#0041ff"/>
<rect x="1037" y="73" width="6" height="1" fill="#0057ff"/>
<rect x="1043" y="73" width="8" height="1" fill="#006dff"/>
<rect x="1051" y="73" width="8" height="1" fill="#0082ff"/>
<rect x="1059" y="73" width="10" height="1" fill="#0098ff"/>
<rect x="1069" y="73" width="10" height="1" fill="#00aeff"/>
<rect x="1079" y="73" width="11" height="1" fill="#00c3ff"/>
<rect x="1090" y="73" width="13" height="1" fill="#00d9ff"/>
<rect x="1103" y="73" width="17" height="1" fill="#00efff"/>
<rect x="1120" y="73" width="31" height="1" fill="#00fffa"/>
<rect x="1151" y="73" width="12" height="1" fill="#00ffe4"/>
<rect x="1163" y="73" width="13" height="1" fill="#00ffce"/>
<rect x="1176" y="73" width="13" height="1" fill="#00ffb8"/>
<rect x="1189" y="73" width="12" height="1" fill="#00ffa3"/>
<rect x="1201" y="73" width="13" height="1" fill="#00ff8d"/>
<rect x="1214" y="73" width="13" height="1" fill="#00ff77"/>
<rect x="1227" y="73" width="15" height="1" fill="#00ff62"/>
<rect x="1242" y="73" width="17" height="1" fill="#00ff4c"/>
<rect x="1259" y="73" width="16" height="1" fill="#00ff36"/>
<rect x="1275" y="73" width="17" height="1" fill="#00ff21"/>
<rect x="1292" y="73" width="19" height="1" fill="#00ff0b"/>
<rect x="1311" y="73" width="19" height="1" fill="#0bff00"/>
<rect x="1330" y="73" width="12" height="1" fill="#21ff00"/>
<rect x="1342" y="73" width="8" height="1" fill="#36ff00"/>
<rect x="1350" y="73" width="9" height="1" fill="#4cff00"/>
<rect x="1359" y="73" width="10" height="1" fill="#62ff00"/>
<rect x="1369" y="73" width="13" height="1" fill="#77ff00"/>
<rect x="1382" y="73" width="15" height="1" fill="#8dff00"/>
<rect x="1397" y="73" width="16" height="1" fill="#a3ff00"/>
<rect x="1413" y="73" width="19" height="1" fill="#b8ff00"/>
<rect x="1432" y="73" width="15" height="1" fill="#ceff00"/>
<rect x="1447" y="73" width="9" height="1" fill="#e4ff00"/>
<rect x="1456" y="73" width="8" height="1" fill="#faff00"/>
<rect x="1464" y="73" width="8" height="1" fill="#ffef00"/>
<rect x="1472" y="73" width="14" height="1" fill="#ffd900"/>
<rect x="1486" y="73" width="14" height="1" fill="#ffc300"/>
<rect x="1500" y="73" width="16" height="1" fill="#ffae00"/>
<rect x="1516" y="73" width="12" height="1" fill="#ff9800"/>
<rect x="1528" y="73" width="17" height="1" fill="#ff8200"/>
<rect x="1545" y="73" width="11" height="1" fill="#ff6d00"/>
<rect x="1011" y="74" width="20" height="1" fill="#002bff"/>
<rect x="1031" y="74" width="6" height="1" fill="#0041ff"/>
<rect x="1037" y="74" width="6" height="1" fill="#0057ff"/>
<rect x="1043" y="74" width="8" height="1" fill="#006dff"/>
<rect x="1051" y="74" width="8" height="1" fill="#0082ff"/>
<rect x="1059" y="74" width="10" height="1" fill="#0098ff"/>
<rect x="1069" y="74" width="10" height="1" fill="#00aeff"/>
<rect x="1079" y="74" width="11" height="1" fill="#00c3ff"/>
<rect x="1090" y="74" width="13" height="1" fill="#00d9ff"/>
<rect x="1103" y="74" width="17" height="1" fill="#00efff"/>
<rect x="1120" y="74" width="31" height="1" fill="#00fffa"/>
<rect x="1151" y="74" width="12" height="1" fill="#00ffe4"/>
<rect x="1163" y="74" width="13" height="1" fill="#00ffce"/>
<rect x="1176" y="74" width="13" height="1" fill="#00ffb8"/>
<rect x="1189" y="74" width="12" height="1" fill="#00ffa3"/>
<rect x="1201" y="74" width="13" height="1" fill="#00ff8d"/>
<rect x="1214" y="74" width="13" height="1" fill="#00ff77"/>
<rect x="1227" y="74" width="15" height="1" fill="#00ff62"/>
<rect x="1242" y="74" width="17" height="1" fill="#00ff4c"/>
<rect x="1259" y="74" width="16" height="1" fill="#00ff36"/>
<rect x="1275" y="74" width="17" height="1" fill="#00ff21"/>
<rect x="1292" y="74" width="19" height="1" fill="#00ff0b"/>
<rect x="1311" y="74" width="19" height="1" fill="#0bff00"/>
<rect x="1330" y="74" width="12" height="1" fill="#21ff00"/>
<rect x="1342" y="74" width="8" height="1" fill="#36ff00"/>
<rect x="1350" y="74" width="9" height="1" fill="#4cff00"/>
<rect x="1359" y="74" width="9" height="1" fill="#62ff00"/>
<rect x="1368" y="74" width="12" height="1" fill="#77ff00"/>
<rect x="1380" y="74" width="14" height="1" fill="#8dff00"/>
<rect x="1394" y="74" width="14" height="1" fill="#a3ff00"/>
<rect x="1408" y="74" width="17" height="1" fill="#b8ff00"/>
<rect x="1425" y="74" width="17" height="1" fill="#ceff00"/>
<rect x="1442" y="74" width="10" height="1" fill="#e4ff00"/>
<rect x="1452" y="74" width="8" height="1" fill="#faff00"/>
<rect x="1460" y="74" width="7" height="1" fill="#ffef00"/>
<rect x="1467" y="74" width="9" height="1" fill="#ffd900"/>
<rect x="1476" y="74" width="13" height="1" fill="#ffc300"/>
<rect x="1489" y="74" width="13" height="1" fill="#ffae00"/>
<rect x="1502" y="74" width="15" height="1" fill="#ff9800"/>
<rect x="1517" y="74" width="12" height="1" fill="#ff8200"/>
<rect x="1529" y="74" width="17" height="1" fill="#ff6d00"/>
<rect x="1546" y="74" width="10" height="1" fill="#ff5700"/>
<rect x="1011" y="75" width="20" height="1" fill="#002bff"/>
<rect x="1031" y="75" width="6" height="1" fill="#0041ff"/>
<rect x="1037" y="75" width="6" height="1" fill="#0057ff"/>
<rect x="1043" y="75" width="8" height="1" fill="#006dff"/>
<rect x="1051" y="75" width="8" height="1" fill="#0082ff"/>
<rect x="1059" y="75" width="10" height="1" fill="#0098ff"/>
<rect x="1069" y="75" width="10" height="1" fill="#00aeff"/>
<rect x="1079" y="75" width="11" height="1" fill="#00c3ff"/>
<rect x="1090" y="75" width="13" height="1" fill="#00d9ff"/>
<rect x="1103" y="75" width="17" height="1" fill="#00efff"/>
<rect x="1120" y="75" width="31" height="1" fill="#00fffa"/>
<rect x="1151" y="75" width="12" height="1" fill="#00ffe4"/>
<rect x="1163" y="75" width="13" height="1" fill="#00ffce"/>
<rect x="1176" y="75" width="13" height="1" fill="#00ffb8"/>
<rect x="1189" y="75" width="12" height="1" fill="#00ffa3"/>
<rect x="1201" y="75" width="13" height="1" fill="#00ff8d"/>
<rect x="1214" y="75" width="13" height="1" fill="#00ff77"/>
<rect x="1227" y="75" width="15" height="1" fill="#00ff62"/>
<rect x="1242" y="75" width="17" height="1" fill="#00ff4c"/>
<rect x="1259" y="75" width="16" height="1" fill="#00ff36"/>
<rect x="1275" y="75" width="17" height="1" fill="#00ff21"/>
<rect x="1292" y="75" width="19" height="1" fill="#00ff0b"/>
<rect x="1311" y="75" width="19" height="1" fill="#0bff00"/>
<rect x="1330" y="75" width="12" height="1" fill="#21ff00"/>
<rect x="1342" y="75" width="8" height="1" fill="#36ff00"/>
<rect x="1350" y="75" width="9" height="1" fill="#4cff00"/>
<rect x="1359" y="75" width="8" height="1" fill="#62ff00"/>
<rect x="1367" y="75" width="12" height="1" fill="#77ff00"/>
<rect x="1379" y="75" width="13" height="1" fill="#8dff00"/>
<rect x="1392" y="75" width="13" height="1" fill="#a3ff00"/>
<rect x="1405" y="75" width="15" height="1" fill="#b8ff00"/>
<rect x="1420" y="75" width="16" height="1" fill="#ceff00"/>
<rect x="1436" y="75" width="11" height="1" fill="#e4ff00"/>
<rect x="1447" y="75" width="9" height="1" fill="#faff00"/>
<rect x="1456" y="75" width="7" height="1" fill="#ffef00"/>
<rect x="1463" y="75" width="6" height="1" fill="#ffd900"/>
<rect x="1469" y="75" width="11" height="1" fill="#ffc300"/>
<rect x="1480" y="75" width="11" height="1" fill="#ffae00"/>
<rect x="1491" y="75" width="13" height="1" fill="#ff9800"/>
<rect x="1504" y="75" width="13" height="1" fill="#ff8200"/>
<rect x="1517" y="75" width="12" height="1" fill="#ff6d00"/>
<rect x="1529" y="75" width="18" height="1" fill="#ff5700"/>
<rect x="1547" y="75" width="9" height="1" fill="#ff4100"/>
<rect x="1011" y="76" width="20" height="1" fill="#002bff"/>
<rect x="1031" y="76" width="6" height="1" fill="#0041ff"/>
<rect x="1037" y="76" width="6" height="1" fill="#0057ff"/>
<rect x="1043" y="76" width="8" height="1" fill="#006dff"/>
<rect x="1051" y="76" width="8" height="1" fill="#0082ff"/>
<rect x="1059" y="76" width="10" height="1" fill="#0098ff"/>
<rect x="1069" y="76" width="10" height="1" fill="#00aeff"/>
<rect x="1079" y="76" width="11" height="1" fill="#00c3ff"/>
<rect x="1090" y="76" width="13" height="1" fill="#00d9ff"/>
<rect x="1103" y="76" width="17" height="1" fill="#00efff"/>
<rect x="1120" y="76" width="31" height="1" fill="#00fffa"/>
<rect x="1151" y="76" width="12" height="1" fill="#00ffe4"/>
<rect x="1163" y="76" width="13" height="1" fill="#00ffce"/>
<rect x="1176" y="76" width="13" height="1" fill="#00ffb8"/>
<rect x="1189" y="76" width="12" height="1" fill="#00ffa3"/>
<rect x="1201" y="76" width="13" height="1" fill="#00ff8d"/>
<rect x="1214" y="76" width="13" height="1" fill="#00ff77"/>
<rect x="1227" y="76" width="15" height="1" fill="#00ff62"/>
<rect x="1242" y="76" width="17" height="1" fill="#00ff4c"/>
<rect x="1259" y="76" width="16" height="1" fill="#00ff36"/>
<rect x="1275" y="76" width="17" height="1" fill="#00ff21"/>
<rect x="1292" y="76" width="19" height="1" fill="#00ff0b"/>
<rect x="1311" y="76" width="19" height="1" fill="#0bff00"/>
<rect x="1330" y="76" width="12" height="1" fill="#21ff00"/>
<rect x="1342" y="76" width="8" height="1" fill="#36ff00"/>
<rect x="1350" y="76" width="8" height="1" fill="#4cff00"/>
<rect x="1358" y="76" width="9" height="1" fill="#62ff00"/>
<rect x="1367" y="76" width="10" height="1" fill="#77ff00"/>
<rect x="1377" y="76" width="12" height="1" fill="#8dff00"/>
<rect x="1389" y="76" width="13" height="1" fill="#a3ff00"/>
<rect x="1402" y="76" width="13" height="1" fill="#b8ff00"/>
<rect x="1415" y="76" width="15" height="1" fill="#ceff00"/>
<rect x="1430" y="76" width="13" height="1" fill="#e4ff00"/>
<rect x="1443" y="76" width="9" height="1" fill="#faff00"/>
<rect x="1452" y="76" width="7" height="1" fill="#ffef00"/>
<rect x="1459" y="76" width="6" height="1" fill="#ffd900"/>
<rect x="1465" y="76" width="7" height="1" fill="#ffc300"/>
<rect x="1472" y="76" width="11" height="1" fill="#ffae00"/>
<rect x="1483" y="76" width="10" height="1" fill="#ff9800"/>
<rect x="1493" y="76" width="12" height="1" fill="#ff8200"/>
<rect x="1505" y="76" width="13" height="1" fill="#ff6d00"/>
<rect x="1518" y="76" width="12" height="1" fill="#ff5700"/>
<rect x="1530" y="76" width="19" height="1" fill="#ff4100"/>
<rect x="1549" y="76" width="7" height="1" fill="#ff2b00"/>
<rect x="1011" y="77" width="20" height="1" fill="#002bff"/>
<rect x="1031" y="77" width="6" height="1" fill="#0041ff"/>
<rect x="1037" y="77" width="6" height="1" fill="#0057ff"/>
<rect x="1043" y="77" width="8" height="1" fill="#006dff"/>
<rect x="1051" y="77" width="8" height="1" fill="#0082ff"/>
<rect x="1059" y="77" width="10" height="1" fill="#0098ff"/>
<rect x="1069" y="77" width="10" height="1" fill="#00aeff"/>
<rect x="1079" y="77" width="11" height="1" fill="#00c3ff"/>
<rect x="1090" y="77" width="13" height="1" fill="#00d9ff"/>
<rect x="1103" y="77" width="17" height="1" fill="#00efff"/>
<rect x="1120" y="77" width="31" height="1" fill="#00fffa"/>
<rect x="1151" y="77" width="12" height="1" fill="#00ffe4"/>
<rect x="1163" y="77" width="13" height="1" fill="#00ffce"/>
<rect x="1176" y="77" width="13" height="1" fill="#00ffb8"/>
<rect x="1189" y="77" width="12" height="1" fill="#00ffa3"/>
<rect x="1201" y="77" width="13" height="1" fill="#00ff8d"/>
<rect x="1214" y="77" width="13" height="1" fill="#00ff77"/>
<rect x="1227" y="77" width="15" height="1" fill="#00ff62"/>
<rect x="1242" y="77" width="17" height="1" fill="#00ff4c"/>
<rect x="1259" y="77" width="16" height="1" fill="#00ff36"/>
<rect x="1275" y="77" width="17" height="1" fill="#00ff21"/>
<rect x="1292" y="77" width="19" height="1" fill="#00ff0b"/>
<rect x="1311" y="77" width="19" height="1" fill="#0bff00"/>
<rect x="1330" y="77" width="12" height="1" fill="#21ff00"/>
<rect x="1342" y="77" width="8" height="1" fill="#36ff00"/>
<rect x="1350" y="77" width="8" height="1" fill="#4cff00"/>
<rect x="1358" y="77" width="9" height="1" fill="#62ff00"/>
<rect x="1367" y="77" width="10" height="1" fill="#77ff00"/>
<rect x="1377" y="77" width="12" height="1" fill="#8dff00"/>
<rect x="1389" y="77" width="12" height="1" fill="#a3ff00"/>
<rect x="1401" y="77" width="12" height="1" fill="#b8ff00"/>
<rect x="1413" y="77" width="15" height="1" fill="#ceff00"/>
<rect x="1428" y="77" width="14" height="1" fill="#e4ff00"/>
<rect x="1442" y="77" width="8" height="1" fill="#faff00"/>
<rect x="1450" y="77" width="8" height="1" fill="#ffef00"/>
<rect x="1458" y="77" width="6" height="1" fill="#ffd900"/>
<rect x="1464" y="77" width="6" height="1" fill="#ffc300"/>
<rect x="1470" y="77" width="10" height="1" fill="#ffae00"/>
<rect x="1480" y="77" width="11" height="1" fill="#ff9800"/>
<rect x="1491" y="77" width="10" height="1" fill="#ff8200"/>
<rect x="1501" y="77" width="13" height="1" fill="#ff6d00"/>
<rect x="1514" y="77" width="12" height="1" fill="#ff5700"/>
<rect x="1526" y="77" width="17" height="1" fill="#ff4100"/>
<rect x="1543" y="77" width="13" height="1" fill="#ff2b00"/>
<rect x="1011" y="78" width="20" height="1" fill="#002bff"/>
<rect x="1031" y="78" width="6" height="1" fill="#0041ff"/>
<rect x="1037" y="78" width="6" height="1" fill="#0057ff"/>
<rect x="1043" y="78" width="8" height="1" fill="#006dff"/>
<rect x="1051" y="78" width="8" height="1" fill="#0082ff"/>
<rect x="1059" y="78" width="10" height="1" fill="#0098ff"/>
<rect x="1069" y="78" width="10" height="1" fill="#00aeff"/>
<rect x="1079" y="78" width="11" height="1" fill="#00c3ff"/>
<rect x="1090" y="78" width="13" height="1" fill="#00d9ff"/>
<rect x="1103" y="78" width="17" height="1" fill="#00efff"/>
<rect x="1120" y="78" width="31" height="1" fill="#00fffa"/>
<rect x="1151" y="78" width="12" height="1" fill="#00ffe4"/>
<rect x="1163" y="78" width="13" height="1" fill="#00ffce"/>
<rect x="1176" y="78" width="13" height="1" fill="#00ffb8"/>
<rect x="1189" y="78" width="12" height="1" fill="#00ffa3"/>
<rect x="1201" y="78" width="13" height="1" fill="#00ff8d"/>
<rect x="1214" y="78" width="13" height="1" fill="#00ff77"/>
<rect x="1227" y="78" width="15" height="1" fill="#00ff62"/>
<rect x="1242" y="78" width="17" height="1" fill="#00ff4c"/>
<rect x="1259" y="78" width="16" height="1" fill="#00ff36"/>
<rect x="1275" y="78" width="17" height="1" fill="#00ff21"/>
<rect x="1292" y="78" width="19" height="1" fill="#00ff0b"/>
<rect x="1311" y="78" width="19" height="1" fill="#0bff00"/>
<rect x="1330" y="78" width="12" height="1" fill="#21ff00"/>
<rect x="1342" y="78" width="8" height="1" fill="#36ff00"/>
<rect x="1350" y="78" width="8" height="1" fill="#4cff00"/>
<rect x="1358" y="78" width="8" height="1" fill="#62ff00"/>
<rect x="1366" y="78" width="10" height="1" fill="#77ff00"/>
<rect x="1376" y="78" width="12" height="1" fill="#8dff00"/>
<rect x="1388" y="78" width="12" height="1" fill="#a3ff00"/>
<rect x="1400" y="78" width="12" height="1" fill="#b8ff00"/>
<rect x="1412" y="78" width="14" height="1" fill="#ceff00"/>
<rect x="1426" y="78" width="14" height="1" fill="#e4ff00"/>
<rect x="1440" y="78" width="9" height="1" fill="#faff00"/>
<rect x="1449" y="78" width="7" height="1" fill="#ffef00"/>
<rect x="1456" y="78" width="7" height="1" fill="#ffd900"/>
<rect x="1463" y="78" width="6" height="1" fill="#ffc300"/>
<rect x="1469" y="78" width="8" height="1" fill="#ffae00"/>
<rect x="1477" y="78" width="11" height="1" fill="#ff9800"/>
<rect x="1488" y="78" width="10" height="1" fill="#ff8200"/>
<rect x="1498" y="78" width="12" height="1" fill="#ff6d00"/>
<rect x="1510" y="78" width="12" height="1" fill="#ff5700"/>
<rect x="1522" y="78" width="15" height="1" fill="#ff4100"/>
<rect x="1537" y="78" width="18" height="1" fill="#ff2b00"/>
<rect x="1555" y="78" width="1" height="1" fill="#ff1600"/>
<rect x="1011" y="79" width="20" height="1" fill="#002bff"/>
<rect x="1031" y="79" width="6" height="1" fill="#0041ff"/>
<rect x="1037" y="79" width="6" height="1" fill="#0057ff"/>
<rect x="1043" y="79" width="8" height="1" fill="#006dff"/>
<rect x="1051" y="79" width="8" height="1" fill="#0082ff"/>
<rect x="1059" y="79" width="10" height="1" fill="#0098ff"/>
<rect x="1069" y="79" width="10" height="1" fill="#00aeff"/>
<rect x="1079" y="79" width="11" height="1" fill="#00c3ff"/>
<rect x="1090" y="79" width="13" height="1" fill="#00d9ff"/>
<rect x="1103" y="79" width="17" height="1" fill="#00efff"/>
<rect x="1120" y="79" width="31" height="1" fill="#00fffa"/>
<rect x="1151" y="79" width="12" height="1" fill="#00ffe4"/>
<rect x="1163" y="79" width="13" height="1" fill="#00ffce"/>
<rect x="1176" y="79" width="13" height="1" fill="#00ffb8"/>
<rect x="1189" y="79" width="12" height="1" fill="#00ffa3"/>
<rect x="1201" y="79" width="13" height="1" fill="#00ff8d"/>
<rect x="1214" y="79" width="13" height="1" fill="#00ff77"/>
<rect x="1227" y="79" width="15" height="1" fill="#00ff62"/>
<rect x="1242" y="79" width="17" height="1" fill="#00ff4c"/>
<rect x="1259" y="79" width="16" height="1" fill="#00ff36"/>
<rect x="1275" y="79" width="17" height="1" fill="#00ff21"/>
<rect x="1292" y="79" width="19" height="1" fill="#00ff0b"/>
<rect x="1311" y="79" width="19" height="1" fill="#0bff00"/>
<rect x="1330" y="79" width="12" height="1" fill="#21ff00"/>
<rect x="1342" y="79" width="8" height="1" fill="#36ff00"/>
<rect x="1350" y="79" width="8" height="1" fill="#4cff00"/>
<rect x="1358" y="79" width="8" height="1" fill="#62ff00"/>
<rect x="1366" y="79" width="10" height="1" fill="#77ff00"/>
<rect x="1376" y="79" width="11" height="1" fill="#8dff00"/>
<rect x="1387" y="79" width="12" height="1" fill="#a3ff00"/>
<rect x="1399" y="79" width="12" height="1" fill="#b8ff00"/>
<rect x="1411" y="79" width="13" height="1" fill="#ceff00"/>
<rect x="1424" y="79" width="14" height="1" fill="#e4ff00"/>
<rect x="1438" y="79" width="10" height="1" fill="#faff00"/>
<rect x="1448" y="79" width="7" height="1" fill="#ffef00"/>
<rect x="1455" y="79" width="6" height="1" fill="#ffd900"/>
<rect x="1461" y="79" width="7" height="1" fill="#ffc300"/>
<rect x="1468" y="79" width="7" height="1" fill="#ffae00"/>
<rect x="1475" y="79" width="10" height="1" fill="#ff9800"/>
<rect x="1485" y="79" width="10" height="1" fill="#ff8200"/>
<rect x="1495" y="79" width="11" height="1" fill="#ff6d00"/>
<rect x="1506" y="79" width="12" height="1" fill="#ff5700"/>
<rect x="1518" y="79" width="12" height="1" fill="#ff4100"/>
<rect x="1530" y="79" width="19" height="1" fill="#ff2b00"/>
<rect x="1549" y="79" width="7" height="1" fill="#ff1600"/>
<rect x="1011" y="80" width="20" height="1" fill="#002bff"/>
<rect x="1031" y="80" width="6" height="1" fill="#0041ff"/>
<rect x="1037" y="80" width="6" height="1" fill="#0057ff"/>
<rect x="1043" y="80" width="8" height="1" fill="#006dff"/>
<rect x="1051" y="80" width="8" height="1" fill="#0082ff"/>
<rect x="1059" y="80" width="10" height="1" fill="#0098ff"/>
<rect x="1069" y="80" width="10" height="1" fill="#00aeff"/>
<rect x="1079" y="80" width="11" height="1" fill="#00c3ff"/>
<rect x="1090" y="80" width="13" height="1" fill="#00d9ff"/>
<rect x="1103" y="80" width="17" height="1" fill="#00efff"/>
<rect x="1120" y="80" width="31" height="1" fill="#00fffa"/>
<rect x="1151" y="80" width="12" height="1" fill="#00ffe4"/>
<rect x="1163" y="80" width="13" height="1" fill="#00ffce"/>
<rect x="1176" y="80" width="13" height="1" fill="#00ffb8"/>
<rect x="1189" y="80" width="12" height="1" fill="#00ffa3"/>
<rect x="1201" y="80" width="13" height="1" fill="#00ff8d"/>
<rect x="1214" y="80" width="13" height="1" fill="#00ff77"/>
<rect x="1227" y="80" width="15" height="1" fill="#00ff62"/>
<rect x="1242" y="80" width="17" height="1" fill="#00ff4c"/>
<rect x="1259" y="80" width="16" height="1" fill="#00ff36"/>
<rect x="1275" y="80" width="17" height="1" fill="#00ff21"/>
<rect x="1292" y="80" width="19" height="1" fill="#00ff0b"/>
<rect x="1311" y="80" width="19" height="1" fill="#0bff00"/>
<rect x="1330" y="80" width="12" height="1" fill="#21ff00"/>
<rect x="1342" y="80" width="8" height="1" fill="#36ff00"/>
<rect x="1350" y="80" width="8" height="1" fill="#4cff00"/>
<rect x="1358" y="80" width="8" height="1" fill="#62ff00"/>
<rect x="1366" y="80" width="9" height="1" fill="#77ff00"/>
<rect x="1375" y="80" width="12" height="1" fill="#8dff00"/>
<rect x="1387" y="80" width="11" height="1" fill="#a3ff00"/>
<rect x="1398" y="80" width="11" height="1" fill="#b8ff00"/>
<rect x="1409" y="80" width="14" height="1" fill="#ceff00"/>
<rect x="1423" y="80" width="13" height="1" fill="#e4ff00"/>
<rect x="1436" y="80" width="10" height="1" fill="#faff00"/>
<rect x="1446" y="80" width="8" height="1" fill="#ffef00"/>
<rect x="1454" y="80" width="6" height="1" fill="#ffd900"/>
<rect x="1460" y="80" width="6" height="1" fill="#ffc300"/>
<rect x="1466" y="80" width="7" height="1" fill="#ffae00"/>
<rect x="1473" y="80" width="9" height="1" fill="#ff9800"/>
<rect x="1482" y="80" width="10" height="1" fill="#ff8200"/>
<rect x="1492" y="80" width="10" height="1" fill="#ff6d00"/>
<rect x="1502" y="80" width="13" height="1" fill="#ff5700"/>
<rect x="1515" y="80" width="11" height="1" fill="#ff4100"/>
<rect x="1526" y="80" width="17" height="1" fill="#ff2b00"/>
<rect x="1543" y="80" width="13" height="1" fill="#ff1600"/>
<rect x="1011" y="81" width="20" height="1" fill="#002bff"/>
<rect x="1031" y="81" width="6" height="1" fill="#0041ff"/>
<rect x="1037" y="81" width="6" height="1" fill="#0057ff"/>
<rect x="1043" y="81" width="8" height="1" fill="#006dff"/>
<rect x="1051" y="81" width="8" height="1" fill="#0082ff"/>
<rect x="1059" y="81" width="10" height="1" fill="#0098ff"/>
<rect x="1069" y="81" width="10" height="1" fill="#00aeff"/>
<rect x="1079" y="81" width="11" height="1" fill="#00c3ff"/>
<rect x="1090" y="81" width="13" height="1" fill="#00d9ff"/>
<rect x="1103" y="81" width="17" height="1" fill="#00efff"/>
<rect x="1120" y="81" width="31" height="1" fill="#00fffa"/>
<rect x="1151" y="81" width="12" height="1" fill="#00ffe4"/>
<rect x="1163" y="81" width="13" height="1" fill="#00ffce"/>
<rect x="1176" y="81" width="13" height="1" fill="#00ffb8"/>
<rect x="1189" y="81" width="12" height="1" fill="#00ffa3"/>
<rect x="1201" y="81" width="13" height="1" fill="#00ff8d"/>
<rect x="1214" y="81" width="13" height="1" fill="#00ff77"/>
<rect x="1227" y="81" width="15" height="1" fill="#00ff62"/>
<rect x="1242" y="81" width="17" height="1" fill="#00ff4c"/>
<rect x="1259" y="81" width="16" height="1" fill="#00ff36"/>
<rect x="1275" y="81" width="17" height="1" fill="#00ff21"/>
<rect x="1292" y="81" width="19" height="1" fill="#00ff0b"/>
<rect x="1311" y="81" width="19" height="1" fill="#0bff00"/>
<rect x="1330" y="81" width="12" height="1" fill="#21ff00"/>
<rect x="1342" y="81" width="8" height="1" fill="#36ff00"/>
<rect x="1350" y="81" width="8" height="1" fill="#4cff00"/>
<rect x="1358" y="81" width="8" height="1" fill="#62ff00"/>
<rect x="1366" y="81" width="9" height="1" fill="#77ff00"/>
<rect x="1375" y="81" width="11" height="1" fill="#8dff00"/>
<rect x="1386" y="81" width="11" height="1" fill="#a3ff00"/>
<rect x="1397" y="81" width="11" height="1" fill="#b8ff00"/>
<rect x="1408" y="81" width="13" height="1" fill="#ceff00"/>
<rect x="1421" y="81" width="13" height="1" fill="#e4ff00"/>
<rect x="1434" y="81" width="11" height="1" fill="#faff00"/>
<rect x="1445" y="81" width="8" height="1" fill="#ffef00"/>
<rect x="1453" y="81" width="6" height="1" fill="#ffd900"/>
<rect x="1459" y="81" width="6" height="1" fill="#ffc300"/>
<rect x="1465" y="81" width="6" height="1" fill="#ffae00"/>
<rect x="1471" y="81" width="9" height="1" fill="#ff9800"/>
<rect x="1480" y="81" width="10" height="1" fill="#ff8200"/>
<rect x="1490" y="81" width="9" height="1" fill="#ff6d00"/>
<rect x="1499" y="81" width="12" height="1" fill="#ff5700"/>
<rect x="1511" y="81" width="11" height="1" fill="#ff4100"/>
<rect x="1522" y="81" width="15" height="1" fill="#ff2b00"/>
<rect x="1537" y="81" width="18" height="1" fill="#ff1600"/>
<rect x="1555" y="81" width="1" height="1" fill="#ff0000"/>
<rect x="1011" y="82" width="20" height="1" fill="#002bff"/>
<rect x="1031" y="82" width="6" height="1" fill="#0041ff"/>
<rect x="1037" y="82" width="6" height="1" fill="#0057ff"/>
<rect x="1043" y="82" width="8" height="1" fill="#006dff"/>
<rect x="1051" y="82" width="8" height="1" fill="#0082ff"/>
<rect x="1059" y="82" width="10" height="1" fill="#0098ff"/>
<rect x="1069" y="82" width="10" height="1" fill="#00aeff"/>
<rect x="1079" y="82" width="11" height="1" fill="#00c3ff"/>
<rect x="1090" y="82" width="13" height="1" fill="#00d9ff"/>
<rect x="1103" y="82" width="17" height="1" fill="#00efff"/>
<rect x="1120" y="82" width="31" height="1" fill="#00fffa"/>
<rect x="1151" y="82" width="12" height="1" fill="#00ffe4"/>
<rect x="1163" y="82" width="13" height="1" fill="#00ffce"/>
<rect x="1176" y="82" width="13" height="1" fill="#00ffb8"/>
<rect x="1189" y="82" width="12" height="1" fill="#00ffa3"/>
<rect x="1201" y="82" width="13" height="1" fill="#00ff8d"/>
<rect x="1214" y="82" width="13" height="1" fill="#00ff77"/>
<rect x="1227" y="82" width="15" height="1" fill="#00ff62"/>
<rect x="1242" y="82" width="17" height="1" fill="#00ff4c"/>
<rect x="1259" y="82" width="16" height="1" fill="#00ff36"/>
<rect x="1275" y="82" width="17" height="1" fill="#00ff21"/>
<rect x="1292" y="82" width="19" height="1" fill="#00ff0b"/>
<rect x="1311" y="82" width="19" height="1" fill="#0bff00"/>
<rect x="1330" y="82" width="12" height="1" fill="#21ff00"/>
<rect x="1342" y="82" width="8" height="1" fill="#36ff00"/>
<rect x="1350" y="82" width="8" height="1" fill="#4cff00"/>
<rect x="1358" y="82" width="8" height="1" fill="#62ff00"/>
<rect x="1366" y="82" width="8" height="1" fill="#77ff00"/>
<rect x="1374" y="82" width="11" height="1" fill="#8dff00"/>
<rect x="1385" y="82" width="11" height="1" fill="#a3ff00"/>
<rect x="1396" y="82" width="11" height="1" fill="#b8ff00"/>
<rect x="1407" y="82" width="13" height="1" fill="#ceff00"/>
<rect x="1420" y="82" width="13" height="1" fill="#e4ff00"/>
<rect x="1433" y="82" width="11" height="1" fill="#faff00"/>
<rect x="1444" y="82" width="7" height="1" fill="#ffef00"/>
<rect x="1451" y="82" width="7" height="1" fill="#ffd900"/>
<rect x="1458" y="82" width="6" height="1" fill="#ffc300"/>
<rect x="1464" y="82" width="6" height="1" fill="#ffae00"/>
<rect x="1470" y="82" width="8" height="1" fill="#ff9800"/>
<rect x="1478" y="82" width="9" height="1" fill="#ff8200"/>
<rect x="1487" y="82" width="9" height="1" fill="#ff6d00"/>
<rect x="1496" y="82" width="11" height="1" fill="#ff5700"/>
<rect x="1507" y="82" width="12" height="1" fill="#ff4100"/>
<rect x="1519" y="82" width="12" height="1" fill="#ff2b00"/>
<rect x="1531" y="82" width="18" height="1" fill="#ff1600"/>
<rect x="1549" y="82" width="7" height="1" fill="#ff0000"/>
<rect x="1011" y="83" width="20" height="1" fill="#002bff"/>
<rect x="1031" y="83" width="6" height="1" fill="#0041ff"/>
<rect x="1037" y="83" width="6" height="1" fill="#0057ff"/>
<rect x="1043" y="83" width="8" height="1" fill="#006dff"/>
<rect x="1051" y="83" width="8" height="1" fill="#0082ff"/>
<rect x="1059" y="83" width="10" height="1" fill="#0098ff"/>
<rect x="1069" y="83" width="10" height="1" fill="#00aeff"/>
<rect x="1079" y="83" width="11" height="1" fill="#00c3ff"/>
<rect x="1090" y="83" width="13" height="1" fill="#00d9ff"/>
<rect x="1103" y="83" width="17" height="1" fill="#00efff"/>
<rect x="1120" y="83" width="31" height="1" fill="#00fffa"/>
<rect x="1151" y="83" width="12" height="1" fill="#00ffe4"/>
<rect x="1163" y="83" width="13" height="1" fill="#00ffce"/>
<rect x="1176" y="83" width="13" height="1" fill="#00ffb8"/>
<rect x="1189" y="83" width="12" height="1" fill="#00ffa3"/>
<rect x="1201" y="83" width="13" height="1" fill="#00ff8d"/>
<rect x="1214" y="83" width="13" height="1" fill="#00ff77"/>
<rect x="1227" y="83" width="15" height="1" fill="#00ff62"/>
<rect x="1242" y="83" width="17" height="1" fill="#00ff4c"/>
<rect x="1259" y="83" width="16" height="1" fill="#00ff36"/>
<rect x="1275" y="83" width="17" height="1" fill="#00ff21"/>
<rect x="1292" y="83" width="19" height="1" fill="#00ff0b"/>
<rect x="1311" y="83" width="19" height="1" fill="#0bff00"/>
<rect x="1330" y="83" width="12" height="1" fill="#21ff00"/>
<rect x="1342" y="83" width="8" height="1" fill="#36ff00"/>
<rect x="1350" y="83" width="8" height="1" fill="#4cff00"/>
<rect x="1358" y="83" width="7" height="1" fill="#62ff00"/>
<rect x="1365" y="83" width="9" height="1" fill="#77ff00"/>
<rect x="1374" y="83" width="11" height="1" fill="#8dff00"/>
<rect x="1385" y="83" width="10" height="1" fill="#a3ff00"/>
<rect x="1395" y="83" width="11" height="1" fill="#b8ff00"/>
<rect x="1406" y="83" width="12" height="1" fill="#ceff00"/>
<rect x="1418" y="83" width="13" height="1" fill="#e4ff00"/>
<rect x="1431" y="83" width="12" height="1" fill="#faff00"/>
<rect x="1443" y="83" width="7" height="1" fill="#ffef00"/>
<rect x="1450" y="83" width="7" height="1" fill="#ffd900"/>
<rect x="1457" y="83" width="6" height="1" fill="#ffc300"/>
<rect x="1463" y="83" width="5" height="1" fill="#ffae00"/>
<rect x="1468" y="83" width="8" height="1" fill="#ff9800"/>
<rect x="1476" y="83" width="9" height="1" fill="#ff8200"/>
<rect x="1485" y="83" width="9" height="1" fill="#ff6d00"/>
<rect x="1494" y="83" width="9" height="1" fill="#ff5700"/>
<rect x="1503" y="83" width="12" height="1" fill="#ff4100"/>
<rect x="1515" y="83" width="11" height="1" fill="#ff2b00"/>
<rect x="1526" y="83" width="17" height="1" fill="#ff1600"/>
<rect x="1543" y="83" width="13" height="1" fill="#ff0000"/>
<rect x="1011" y="84" width="20" height="494" fill="#002bff"/>
<rect x="1031" y="84" width="6" height="494" fill="#0041ff"/>
<rect x="1037" y="84" width="6" height="494" fill="#0057ff"/>
<rect x="1043" y="84" width="8" height="494" fill="#006dff"/>
<rect x="1051" y="84" width="8" height="494" fill="#0082ff"/>
<rect x="1059" y="84" width="10" height="494" fill="#0098ff"/>
<rect x="1069" y="84" width="10" height="494" fill="#00aeff"/>
<rect x="1079" y="84" width="11" height="494" fill="#00c3ff"/>
<rect x="1090" y="84" width="13" height="494" fill="#00d9ff"/>
<rect x="1103" y="84" width="17" height="494" fill="#00efff"/>
<rect x="1120" y="84" width="31" height="494" fill="#00fffa"/>
<rect x="1151" y="84" width="12" height="494" fill="#00ffe4"/>
<rect x="1163" y="84" width="13" height="494" fill="#00ffce"/>
<rect x="1176" y="84" width="13" height="494" fill="#00ffb8"/>
<rect x="1189" y="84" width="12" height="494" fill="#00ffa3"/>
<rect x="1201" y="84" width="13" height="494" fill="#00ff8d"/>
<rect x="1214" y="84" width="13" height="494" fill="#00ff77"/>
<rect x="1227" y="84" width="15" height="494" fill="#00ff62"/>
<rect x="1242" y="84" width="17" height="494" fill="#00ff4c"/>
<rect x="1259" y="84" width="16" height="494" fill="#00ff36"/>
<rect x="1275" y="84" width="17" height="494" fill="#00ff21"/>
<rect x="1292" y="84" width="19" height="494" fill="#00ff0b"/>
<rect x="1311" y="84" width="19" height="494" fill="#0bff00"/>
<rect x="1330" y="84" width="12" height="494" fill="#21ff00"/>
<rect x="1342" y="84" width="8" height="494" fill="#36ff00"/>
<rect x="1350" y="84" width="8" height="494" fill="#4cff00"/>
<rect x="1358" y="84" width="7" height="494" fill="#62ff00"/>
<rect x="1365" y="84" width="8" height="494" fill="#77ff00"/>
<rect x="1373" y="84" width="11" height="494" fill="#8dff00"/>
<rect x="1384" y="84" width="11" height="494" fill="#a3ff00"/>
<rect x="1395" y="84" width="10" height="494" fill="#b8ff00"/>
<rect x="1405" y="84" width="12" height="494" fill="#ceff00"/>
<rect x="1417" y="84" width="12" height="494" fill="#e4ff00"/>
<rect x="1429" y="84" width="13" height="494" fill="#faff00"/>
<rect x="1442" y="84" width="7" height="494" fill="#ffef00"/>
<rect x="1449" y="84" width="7" height="494" fill="#ffd900"/>
<rect x="1456" y="84" width="5" height="494" fill="#ffc300"/>
<rect x="1461" y="84" width="6" height="494" fill="#ffae00"/>
<rect x="1467" y="84" width="6" height="494" fill="#ff9800"/>
<rect x="1473" y="84" width="9" height="494" fill="#ff8200"/>
<rect x="1482" y="84" width="9" height="494" fill="#ff6d00"/>
<rect x="1491" y="84" width="9" height="494" fill="#ff5700"/>
<rect x="1500" y="84" width="11" height="494" fill="#ff4100"/>
<rect x="1511" y="84" width="11" height="494" fill="#ff2b00"/>
<rect x="1522" y="84" width="15" height="494" fill="#ff1600"/>
<rect x="1537" y="84" width="19" height="494" fill="#ff0000"/>
</g>
<rect x="1011.6" y="56.5" width="544.4" height="521.2" fill="none" stroke="#000" stroke-width="2.3"/>
<path d="M1011.6 577.7H1001.34M1011.6 562.01H1006.32M1011.6 552.83H1006.32M1011.6 546.32H1006.32M1011.6 541.27H1006.32M1011.6 537.14H1006.32M1011.6 533.65H1006.32M1011.6 530.63H1006.32M1011.6 527.96H1006.32M1011.6 525.58H1001.34M1011.6 509.89H1006.32M1011.6 500.71H1006.32M1011.6 494.2H1006.32M1011.6 489.15H1006.32M1011.6 485.02H1006.32M1011.6 481.53H1006.32M1011.6 478.51H1006.32M1011.6 475.84H1006.32M1011.6 473.46H1001.34M1011.6 457.77H1006.32M1011.6 448.59H1006.32M1011.6 442.08H1006.32M1011.6 437.03H1006.32M1011.6 432.9H1006.32M1011.6 429.41H1006.32M1011.6 426.39H1006.32M1011.6 423.72H1006.32M1011.6 421.34H1001.34M1011.6 405.65H1006.32M1011.6 396.47H1006.32M1011.6 389.96H1006.32M1011.6 384.91H1006.32M1011.6 380.78H1006.32M1011.6 377.29H1006.32M1011.6 374.27H1006.32M1011.6 371.6H1006.32M1011.6 369.22H1001.34M1011.6 353.53H1006.32M1011.6 344.35H1006.32M1011.6 337.84H1006.32M1011.6 332.79H1006.32M1011.6 328.66H1006.32M1011.6 325.17H1006.32M1011.6 322.15H1006.32M1011.6 319.48H1006.32M1011.6 317.1H1001.34M1011.6 301.41H1006.32M1011.6 292.23H1006.32M1011.6 285.72H1006.32M1011.6 280.67H1006.32M1011.6 276.54H1006.32M1011.6 273.05H1006.32M1011.6 270.03H1006.32M1011.6 267.36H1006.32M1011.6 264.98H1001.34M1011.6 249.29H1006.32M1011.6 240.11H1006.32M1011.6 233.6H1006.32M1011.6 228.55H1006.32M1011.6 224.42H1006.32M1011.6 220.93H1006.32M1011.6 217.91H1006.32M1011.6 215.24H1006.32M1011.6 212.86H1001.34M1011.6 197.17H1006.32M1011.6 187.99H1006.32M1011.6 181.48H1006.32M1011.6 176.43H1006.32M1011.6 172.3H1006.32M1011.6 168.81H1006.32M1011.6 165.79H1006.32M1011.6 163.12H1006.32M1011.6 160.74H1001.34M1011.6 145.05H1006.32M1011.6 135.87H1006.32M1011.6 129.36H1006.32M1011.6 124.31H1006.32M1011.6 120.18H1006.32M1011.6 116.69H1006.32M1011.6 113.67H1006.32M1011.6 111H1006.32M1011.6 108.62H1001.34M1011.6 92.93H1006.32M1011.6 83.75H1006.32M1011.6 77.24H1006.32M1011.6 72.19H1006.32M1011.6 68.06H1006.32M1011.6 64.57H1006.32M1011.6 61.55H1006.32M1011.6 58.88H1006.32M1011.6 56.5H1001.34M1011.6 577.7V582.98M1040.25 577.7V587.96M1068.91 577.7V582.98M1097.56 577.7V587.96M1126.21 577.7V582.98M1154.86 577.7V587.96M1183.52 577.7V582.98M1212.17 577.7V587.96M1240.82 577.7V582.98M1269.47 577.7V587.96M1298.13 577.7V582.98M1326.78 577.7V587.96M1355.43 577.7V582.98M1384.08 577.7V587.96M1412.74 577.7V582.98M1441.39 577.7V587.96M1470.04 577.7V582.98M1498.69 577.7V587.96M1527.35 577.7V582.98M1556 577.7V587.96" stroke="#000" stroke-width="2.3" fill="none"/>
<g font-size="26.59">
<text transform="translate(935.36 586.19) scale(1.028 1)">1E11</text>
<text transform="translate(935.36 534.07) scale(1.028 1)">1E12</text>
<text transform="translate(935.36 481.95) scale(1.028 1)">1E13</text>
<text transform="translate(935.36 429.83) scale(1.028 1)">1E14</text>
<text transform="translate(935.36 377.71) scale(1.028 1)">1E15</text>
<text transform="translate(935.36 325.59) scale(1.028 1)">1E16</text>
<text transform="translate(935.36 273.47) scale(1.028 1)">1E17</text>
<text transform="translate(935.36 221.35) scale(1.028 1)">1E18</text>
<text transform="translate(935.36 169.23) scale(1.028 1)">1E19</text>
<text transform="translate(935.36 117.11) scale(1.028 1)">1E20</text>
<text transform="translate(935.36 64.99) scale(1.028 1)">1E21</text>
</g>
<g font-size="26.59" text-anchor="middle">
<text transform="translate(1040.25 616.99) scale(1.028 1)">0.02</text>
<text transform="translate(1097.56 616.99) scale(1.028 1)">0.04</text>
<text transform="translate(1154.86 616.99) scale(1.028 1)">0.06</text>
<text transform="translate(1212.17 616.99) scale(1.028 1)">0.08</text>
<text transform="translate(1269.47 616.99) scale(1.028 1)">0.10</text>
<text transform="translate(1326.78 616.99) scale(1.028 1)">0.12</text>
<text transform="translate(1384.08 616.99) scale(1.028 1)">0.14</text>
<text transform="translate(1441.39 616.99) scale(1.028 1)">0.16</text>
<text transform="translate(1498.69 616.99) scale(1.028 1)">0.18</text>
<text transform="translate(1556 616.99) scale(1.028 1)">0.20</text>
</g>
<text x="1284.5" y="669.5" font-size="32.13" text-anchor="middle">Thickness (μm)</text>
<text transform="translate(917.5 513.8) rotate(-90)" font-size="32.1">Doping Concentration (cm<tspan dy="-13.48" font-size="21.5">-3</tspan><tspan dy="13.48">)</tspan></text>
<text x="1296.3" y="727" font-size="42" text-anchor="middle">(b)</text>
<g shape-rendering="crispEdges">
<rect x="1590" y="67" width="44" height="10" fill="#ff0000"/>
<rect x="1590" y="77" width="44" height="11" fill="#ff1600"/>
<rect x="1590" y="88" width="44" height="10" fill="#ff2b00"/>
<rect x="1590" y="98" width="44" height="10" fill="#ff4100"/>
<rect x="1590" y="108" width="44" height="11" fill="#ff5700"/>
<rect x="1590" y="119" width="44" height="10" fill="#ff6d00"/>
<rect x="1590" y="129" width="44" height="11" fill="#ff8200"/>
<rect x="1590" y="140" width="44" height="10" fill="#ff9800"/>
<rect x="1590" y="150" width="44" height="11" fill="#ffae00"/>
<rect x="1590" y="161" width="44" height="10" fill="#ffc300"/>
<rect x="1590" y="171" width="44" height="11" fill="#ffd900"/>
<rect x="1590" y="182" width="44" height="10" fill="#ffef00"/>
<rect x="1590" y="192" width="44" height="10" fill="#faff00"/>
<rect x="1590" y="202" width="44" height="11" fill="#e4ff00"/>
<rect x="1590" y="213" width="44" height="10" fill="#ceff00"/>
<rect x="1590" y="223" width="44" height="11" fill="#b8ff00"/>
<rect x="1590" y="234" width="44" height="10" fill="#a3ff00"/>
<rect x="1590" y="244" width="44" height="11" fill="#8dff00"/>
<rect x="1590" y="255" width="44" height="10" fill="#77ff00"/>
<rect x="1590" y="265" width="44" height="10" fill="#62ff00"/>
<rect x="1590" y="275" width="44" height="11" fill="#4cff00"/>
<rect x="1590" y="286" width="44" height="10" fill="#36ff00"/>
<rect x="1590" y="296" width="44" height="11" fill="#21ff00"/>
<rect x="1590" y="307" width="44" height="10" fill="#0bff00"/>
<rect x="1590" y="317" width="44" height="11" fill="#00ff0b"/>
<rect x="1590" y="328" width="44" height="10" fill="#00ff21"/>
<rect x="1590" y="338" width="44" height="11" fill="#00ff36"/>
<rect x="1590" y="349" width="44" height="10" fill="#00ff4c"/>
<rect x="1590" y="359" width="44" height="10" fill="#00ff62"/>
<rect x="1590" y="369" width="44" height="11" fill="#00ff77"/>
<rect x="1590" y="380" width="44" height="10" fill="#00ff8d"/>
<rect x="1590" y="390" width="44" height="11" fill="#00ffa3"/>
<rect x="1590" y="401" width="44" height="10" fill="#00ffb8"/>
<rect x="1590" y="411" width="44" height="11" fill="#00ffce"/>
<rect x="1590" y="422" width="44" height="10" fill="#00ffe4"/>
<rect x="1590" y="432" width="44" height="10" fill="#00fffa"/>
<rect x="1590" y="442" width="44" height="11" fill="#00efff"/>
<rect x="1590" y="453" width="44" height="10" fill="#00d9ff"/>
<rect x="1590" y="463" width="44" height="11" fill="#00c3ff"/>
<rect x="1590" y="474" width="44" height="10" fill="#00aeff"/>
<rect x="1590" y="484" width="44" height="11" fill="#0098ff"/>
<rect x="1590" y="495" width="44" height="10" fill="#0082ff"/>
<rect x="1590" y="505" width="44" height="11" fill="#006dff"/>
<rect x="1590" y="516" width="44" height="10" fill="#0057ff"/>
<rect x="1590" y="526" width="44" height="10" fill="#0041ff"/>
<rect x="1590" y="536" width="44" height="11" fill="#002bff"/>
<rect x="1590" y="547" width="44" height="10" fill="#0016ff"/>
<rect x="1590" y="557" width="44" height="11" fill="#0000ff"/>
<rect x="1590" y="568" width="44" height="10" fill="#000"/>
</g>
<rect x="1590.3" y="56.2" width="43.7" height="521.1" fill="none" stroke="#000" stroke-width="1.3"/>
<g font-size="26.59">
<text transform="translate(1654.5 76.29) scale(1.028 1)">37.60</text>
<text transform="translate(1654.5 138.91) scale(1.028 1)">37.60</text>
<text transform="translate(1654.5 201.54) scale(1.028 1)">37.60</text>
<text transform="translate(1654.5 264.16) scale(1.028 1)">37.59</text>
<text transform="translate(1654.5 326.79) scale(1.028 1)">37.59</text>
<text transform="translate(1654.5 389.41) scale(1.028 1)">37.59</text>
<text transform="translate(1654.5 452.04) scale(1.028 1)">37.58</text>
<text transform="translate(1654.5 514.66) scale(1.028 1)">37.58</text>
<text transform="translate(1654.5 577.29) scale(1.028 1)">37.58</text>
</g>
<path d="M1634.3 66.7H1643.76M1634.3 129.33H1643.76M1634.3 191.95H1643.76M1634.3 254.58H1643.76M1634.3 317.2H1643.76M1634.3 379.83H1643.76M1634.3 442.45H1643.76M1634.3 505.08H1643.76M1634.3 567.7H1643.76" stroke="#000" stroke-width="1.4" fill="none"/>
<text x="1520" y="29.2" font-size="32.06">J<tspan dy="9.3" font-size="22.44">SC</tspan><tspan dy="-9.3"> (mA/cm</tspan><tspan dy="-12.83" font-size="21.16">2</tspan><tspan dy="12.83">)</tspan></text>
</g>
<g id="panel-c">
<g shape-rendering="crispEdges">
<rect x="126" y="809" width="554" height="3" fill="#0000ff"/>
<rect x="126" y="812" width="554" height="1" fill="#00ffb8"/>
<rect x="126" y="813" width="554" height="1" fill="#00ff4c"/>
<rect x="126" y="814" width="554" height="1" fill="#00ff0b"/>
<rect x="126" y="815" width="29" height="1" fill="#ffd900"/>
<rect x="155" y="815" width="55" height="1" fill="#ffef00"/>
<rect x="210" y="815" width="120" height="1" fill="#faff00"/>
<rect x="330" y="815" width="199" height="1" fill="#e4ff00"/>
<rect x="529" y="815" width="74" height="1" fill="#ceff00"/>
<rect x="603" y="815" width="58" height="1" fill="#b8ff00"/>
<rect x="661" y="815" width="19" height="1" fill="#a3ff00"/>
<rect x="126" y="816" width="17" height="3" fill="#ff1600"/>
<rect x="143" y="816" width="18" height="3" fill="#ff2b00"/>
<rect x="161" y="816" width="12" height="3" fill="#ff4100"/>
<rect x="173" y="816" width="11" height="3" fill="#ff5700"/>
<rect x="184" y="816" width="12" height="3" fill="#ff6d00"/>
<rect x="196" y="816" width="15" height="3" fill="#ff8200"/>
<rect x="211" y="816" width="14" height="3" fill="#ff9800"/>
<rect x="225" y="816" width="15" height="3" fill="#ffae00"/>
<rect x="240" y="816" width="26" height="3" fill="#ffc300"/>
<rect x="266" y="816" width="44" height="3" fill="#ffd900"/>
<rect x="310" y="816" width="44" height="3" fill="#ffef00"/>
<rect x="354" y="816" width="74" height="3" fill="#faff00"/>
<rect x="428" y="816" width="101" height="3" fill="#e4ff00"/>
<rect x="529" y="816" width="74" height="3" fill="#ceff00"/>
<rect x="603" y="816" width="58" height="3" fill="#b8ff00"/>
<rect x="661" y="816" width="19" height="3" fill="#a3ff00"/>
<rect x="126" y="819" width="4" height="1" fill="#ff2b00"/>
<rect x="130" y="819" width="6" height="1" fill="#ff4100"/>
<rect x="136" y="819" width="6" height="1" fill="#ff5700"/>
<rect x="142" y="819" width="5" height="1" fill="#ff6d00"/>
<rect x="147" y="819" width="5" height="1" fill="#ff8200"/>
<rect x="152" y="819" width="4" height="1" fill="#ff9800"/>
<rect x="156" y="819" width="5" height="1" fill="#ffae00"/>
<rect x="161" y="819" width="5" height="1" fill="#ffc300"/>
<rect x="166" y="819" width="9" height="1" fill="#ffd900"/>
<rect x="175" y="819" width="13" height="1" fill="#ffef00"/>
<rect x="188" y="819" width="19" height="1" fill="#faff00"/>
<rect x="207" y="819" width="18" height="1" fill="#e4ff00"/>
<rect x="225" y="819" width="13" height="1" fill="#ceff00"/>
<rect x="238" y="819" width="22" height="1" fill="#b8ff00"/>
<rect x="260" y="819" width="51" height="1" fill="#a3ff00"/>
<rect x="311" y="819" width="20" height="1" fill="#8dff00"/>
<rect x="331" y="819" width="111" height="1" fill="#77ff00"/>
<rect x="442" y="819" width="148" height="1" fill="#62ff00"/>
<rect x="590" y="819" width="45" height="1" fill="#4cff00"/>
<rect x="635" y="819" width="45" height="1" fill="#36ff00"/>
<rect x="126" y="820" width="4" height="1" fill="#ff5700"/>
<rect x="130" y="820" width="4" height="1" fill="#ff6d00"/>
<rect x="134" y="820" width="3" height="1" fill="#ff8200"/>
<rect x="137" y="820" width="4" height="1" fill="#ff9800"/>
<rect x="141" y="820" width="3" height="1" fill="#ffae00"/>
<rect x="144" y="820" width="3" height="1" fill="#ffc300"/>
<rect x="147" y="820" width="3" height="1" fill="#ffd900"/>
<rect x="150" y="820" width="2" height="1" fill="#ffef00"/>
<rect x="152" y="820" width="3" height="1" fill="#faff00"/>
<rect x="155" y="820" width="2" height="1" fill="#e4ff00"/>
<rect x="157" y="820" width="4" height="1" fill="#ceff00"/>
<rect x="161" y="820" width="4" height="1" fill="#b8ff00"/>
<rect x="165" y="820" width="6" height="1" fill="#a3ff00"/>
<rect x="171" y="820" width="9" height="1" fill="#8dff00"/>
<rect x="180" y="820" width="26" height="1" fill="#77ff00"/>
<rect x="206" y="820" width="24" height="1" fill="#62ff00"/>
<rect x="230" y="820" width="16" height="1" fill="#4cff00"/>
<rect x="246" y="820" width="14" height="1" fill="#36ff00"/>
<rect x="260" y="820" width="66" height="1" fill="#21ff00"/>
<rect x="326" y="820" width="3" height="1" fill="#0bff00"/>
<rect x="329" y="820" width="217" height="1" fill="#00ff0b"/>
<rect x="546" y="820" width="88" height="1" fill="#00ff21"/>
<rect x="634" y="820" width="46" height="1" fill="#00ff36"/>
<rect x="126" y="821" width="2" height="1" fill="#ff6d00"/>
<rect x="128" y="821" width="3" height="1" fill="#ff8200"/>
<rect x="131" y="821" width="3" height="1" fill="#ff9800"/>
<rect x="134" y="821" width="2" height="1" fill="#ffae00"/>
<rect x="136" y="821" width="3" height="1" fill="#ffc300"/>
<rect x="139" y="821" width="3" height="1" fill="#ffd900"/>
<rect x="142" y="821" width="3" height="1" fill="#ffef00"/>
<rect x="145" y="821" width="2" height="1" fill="#faff00"/>
<rect x="147" y="821" width="2" height="1" fill="#e4ff00"/>
<rect x="149" y="821" width="2" height="1" fill="#ceff00"/>
<rect x="151" y="821" width="2" height="1" fill="#b8ff00"/>
<rect x="153" y="821" width="2" height="1" fill="#a3ff00"/>
<rect x="155" y="821" width="2" height="1" fill="#8dff00"/>
<rect x="157" y="821" width="3" height="1" fill="#77ff00"/>
<rect x="160" y="821" width="4" height="1" fill="#62ff00"/>
<rect x="164" y="821" width="3" height="1" fill="#4cff00"/>
<rect x="167" y="821" width="7" height="1" fill="#36ff00"/>
<rect x="174" y="821" width="17" height="1" fill="#21ff00"/>
<rect x="191" y="821" width="34" height="1" fill="#0bff00"/>
<rect x="225" y="821" width="9" height="1" fill="#00ff0b"/>
<rect x="234" y="821" width="25" height="1" fill="#00ff21"/>
<rect x="259" y="821" width="52" height="1" fill="#00ff36"/>
<rect x="311" y="821" width="17" height="1" fill="#00ff4c"/>
<rect x="328" y="821" width="303" height="1" fill="#00ff62"/>
<rect x="631" y="821" width="4" height="1" fill="#00ff77"/>
<rect x="635" y="821" width="45" height="1" fill="#00ff8d"/>
<rect x="126" y="822" width="4" height="1" fill="#ff8200"/>
<rect x="130" y="822" width="2" height="1" fill="#ff9800"/>
<rect x="132" y="822" width="3" height="1" fill="#ffae00"/>
<rect x="135" y="822" width="3" height="1" fill="#ffc300"/>
<rect x="138" y="822" width="3" height="1" fill="#ffd900"/>
<rect x="141" y="822" width="2" height="1" fill="#ffef00"/>
<rect x="143" y="822" width="3" height="1" fill="#faff00"/>
<rect x="146" y="822" width="2" height="1" fill="#e4ff00"/>
<rect x="148" y="822" width="2" height="1" fill="#ceff00"/>
<rect x="150" y="822" width="2" height="1" fill="#b8ff00"/>
<rect x="152" y="822" width="2" height="1" fill="#a3ff00"/>
<rect x="154" y="822" width="2" height="1" fill="#8dff00"/>
<rect x="156" y="822" width="3" height="1" fill="#77ff00"/>
<rect x="159" y="822" width="3" height="1" fill="#62ff00"/>
<rect x="162" y="822" width="3" height="1" fill="#4cff00"/>
<rect x="165" y="822" width="4" height="1" fill="#36ff00"/>
<rect x="169" y="822" width="9" height="1" fill="#21ff00"/>
<rect x="178" y="822" width="30" height="1" fill="#0bff00"/>
<rect x="208" y="822" width="23" height="1" fill="#00ff0b"/>
<rect x="231" y="822" width="27" height="1" fill="#00ff21"/>
<rect x="258" y="822" width="2" height="1" fill="#00ff36"/>
<rect x="260" y="822" width="67" height="1" fill="#00ff4c"/>
<rect x="327" y="822" width="2" height="1" fill="#00ff62"/>
<rect x="329" y="822" width="304" height="1" fill="#00ff77"/>
<rect x="633" y="822" width="47" height="1" fill="#00ff8d"/>
<rect x="126" y="823" width="2" height="1" fill="#ff8200"/>
<rect x="128" y="823" width="3" height="1" fill="#ff9800"/>
<rect x="131" y="823" width="2" height="1" fill="#ffae00"/>
<rect x="133" y="823" width="3" height="1" fill="#ffc300"/>
<rect x="136" y="823" width="3" height="1" fill="#ffd900"/>
<rect x="139" y="823" width="3" height="1" fill="#ffef00"/>
<rect x="142" y="823" width="2" height="1" fill="#faff00"/>
<rect x="144" y="823" width="3" height="1" fill="#e4ff00"/>
<rect x="147" y="823" width="2" height="1" fill="#ceff00"/>
<rect x="149" y="823" width="2" height="1" fill="#b8ff00"/>
<rect x="151" y="823" width="2" height="1" fill="#a3ff00"/>
<rect x="153" y="823" width="2" height="1" fill="#8dff00"/>
<rect x="155" y="823" width="2" height="1" fill="#77ff00"/>
<rect x="157" y="823" width="3" height="1" fill="#62ff00"/>
<rect x="160" y="823" width="3" height="1" fill="#4cff00"/>
<rect x="163" y="823" width="4" height="1" fill="#36ff00"/>
<rect x="167" y="823" width="6" height="1" fill="#21ff00"/>
<rect x="173" y="823" width="12" height="1" fill="#0bff00"/>
<rect x="185" y="823" width="36" height="1" fill="#00ff0b"/>
<rect x="221" y="823" width="12" height="1" fill="#00ff21"/>
<rect x="233" y="823" width="26" height="1" fill="#00ff36"/>
<rect x="259" y="823" width="12" height="1" fill="#00ff4c"/>
<rect x="271" y="823" width="57" height="1" fill="#00ff62"/>
<rect x="328" y="823" width="147" height="1" fill="#00ff77"/>
<rect x="475" y="823" width="159" height="1" fill="#00ff8d"/>
<rect x="634" y="823" width="46" height="1" fill="#00ffa3"/>
<rect x="126" y="824" width="1" height="517" fill="#ff8200"/>
<rect x="127" y="824" width="4" height="517" fill="#ff9800"/>
<rect x="131" y="824" width="2" height="517" fill="#ffae00"/>
<rect x="133" y="824" width="3" height="517" fill="#ffc300"/>
<rect x="136" y="824" width="3" height="517" fill="#ffd900"/>
<rect x="139" y="824" width="2" height="517" fill="#ffef00"/>
<rect x="141" y="824" width="3" height="517" fill="#faff00"/>
<rect x="144" y="824" width="2" height="517" fill="#e4ff00"/>
<rect x="146" y="824" width="3" height="517" fill="#ceff00"/>
<rect x="149" y="824" width="2" height="517" fill="#b8ff00"/>
<rect x="151" y="824" width="2" height="517" fill="#a3ff00"/>
<rect x="153" y="824" width="2" height="517" fill="#8dff00"/>
<rect x="155" y="824" width="2" height="517" fill="#77ff00"/>
<rect x="157" y="824" width="3" height="517" fill="#62ff00"/>
<rect x="160" y="824" width="3" height="517" fill="#4cff00"/>
<rect x="163" y="824" width="3" height="517" fill="#36ff00"/>
<rect x="166" y="824" width="6" height="517" fill="#21ff00"/>
<rect x="172" y="824" width="8" height="517" fill="#0bff00"/>
<rect x="180" y="824" width="37" height="517" fill="#00ff0b"/>
<rect x="217" y="824" width="15" height="517" fill="#00ff21"/>
<rect x="232" y="824" width="27" height="517" fill="#00ff36"/>
<rect x="259" y="824" width="2" height="517" fill="#00ff4c"/>
<rect x="261" y="824" width="66" height="517" fill="#00ff62"/>
<rect x="327" y="824" width="3" height="517" fill="#00ff77"/>
<rect x="330" y="824" width="304" height="517" fill="#00ff8d"/>
<rect x="634" y="824" width="46" height="517" fill="#00ffa3"/>
</g>
<rect x="126.5" y="809.7" width="553" height="530.9" fill="none" stroke="#000" stroke-width="2.3"/>
<path d="M126.5 1340.6H116.09M126.5 1324.62H121.14M126.5 1315.27H121.14M126.5 1308.64H121.14M126.5 1303.49H121.14M126.5 1299.29H121.14M126.5 1295.73H121.14M126.5 1292.65H121.14M126.5 1289.94H121.14M126.5 1287.51H116.09M126.5 1271.53H121.14M126.5 1262.18H121.14M126.5 1255.55H121.14M126.5 1250.4H121.14M126.5 1246.2H121.14M126.5 1242.64H121.14M126.5 1239.56H121.14M126.5 1236.85H121.14M126.5 1234.42H116.09M126.5 1218.44H121.14M126.5 1209.09H121.14M126.5 1202.46H121.14M126.5 1197.31H121.14M126.5 1193.11H121.14M126.5 1189.55H121.14M126.5 1186.47H121.14M126.5 1183.76H121.14M126.5 1181.33H116.09M126.5 1165.35H121.14M126.5 1156H121.14M126.5 1149.37H121.14M126.5 1144.22H121.14M126.5 1140.02H121.14M126.5 1136.46H121.14M126.5 1133.38H121.14M126.5 1130.67H121.14M126.5 1128.24H116.09M126.5 1112.26H121.14M126.5 1102.91H121.14M126.5 1096.28H121.14M126.5 1091.13H121.14M126.5 1086.93H121.14M126.5 1083.37H121.14M126.5 1080.29H121.14M126.5 1077.58H121.14M126.5 1075.15H116.09M126.5 1059.17H121.14M126.5 1049.82H121.14M126.5 1043.19H121.14M126.5 1038.04H121.14M126.5 1033.84H121.14M126.5 1030.28H121.14M126.5 1027.2H121.14M126.5 1024.49H121.14M126.5 1022.06H116.09M126.5 1006.08H121.14M126.5 996.73H121.14M126.5 990.1H121.14M126.5 984.95H121.14M126.5 980.75H121.14M126.5 977.19H121.14M126.5 974.11H121.14M126.5 971.4H121.14M126.5 968.97H116.09M126.5 952.99H121.14M126.5 943.64H121.14M126.5 937.01H121.14M126.5 931.86H121.14M126.5 927.66H121.14M126.5 924.1H121.14M126.5 921.02H121.14M126.5 918.31H121.14M126.5 915.88H116.09M126.5 899.9H121.14M126.5 890.55H121.14M126.5 883.92H121.14M126.5 878.77H121.14M126.5 874.57H121.14M126.5 871.01H121.14M126.5 867.93H121.14M126.5 865.22H121.14M126.5 862.79H116.09M126.5 846.81H121.14M126.5 837.46H121.14M126.5 830.83H121.14M126.5 825.68H121.14M126.5 821.48H121.14M126.5 817.92H121.14M126.5 814.84H121.14M126.5 812.13H121.14M126.5 809.7H116.09M126.5 1340.6V1345.96M155.61 1340.6V1351.01M184.71 1340.6V1345.96M213.82 1340.6V1351.01M242.92 1340.6V1345.96M272.03 1340.6V1351.01M301.13 1340.6V1345.96M330.24 1340.6V1351.01M359.34 1340.6V1345.96M388.45 1340.6V1351.01M417.55 1340.6V1345.96M446.66 1340.6V1351.01M475.76 1340.6V1345.96M504.87 1340.6V1351.01M533.97 1340.6V1345.96M563.08 1340.6V1351.01M592.18 1340.6V1345.96M621.29 1340.6V1351.01M650.39 1340.6V1345.96M679.5 1340.6V1351.01" stroke="#000" stroke-width="2.3" fill="none"/>
<g font-size="26.99">
<text transform="translate(49.04 1349.72) scale(1.025 1)">1E11</text>
<text transform="translate(49.04 1296.63) scale(1.025 1)">1E12</text>
<text transform="translate(49.04 1243.54) scale(1.025 1)">1E13</text>
<text transform="translate(49.04 1190.45) scale(1.025 1)">1E14</text>
<text transform="translate(49.04 1137.36) scale(1.025 1)">1E15</text>
<text transform="translate(49.04 1084.27) scale(1.025 1)">1E16</text>
<text transform="translate(49.04 1031.18) scale(1.025 1)">1E17</text>
<text transform="translate(49.04 978.09) scale(1.025 1)">1E18</text>
<text transform="translate(49.04 925) scale(1.025 1)">1E19</text>
<text transform="translate(49.04 871.91) scale(1.025 1)">1E20</text>
<text transform="translate(49.04 818.82) scale(1.025 1)">1E21</text>
</g>
<g font-size="26.99" text-anchor="middle">
<text transform="translate(155.61 1380.49) scale(1.025 1)">0.02</text>
<text transform="translate(213.82 1380.49) scale(1.025 1)">0.04</text>
<text transform="translate(272.03 1380.49) scale(1.025 1)">0.06</text>
<text transform="translate(330.24 1380.49) scale(1.025 1)">0.08</text>
<text transform="translate(388.45 1380.49) scale(1.025 1)">0.10</text>
<text transform="translate(446.66 1380.49) scale(1.025 1)">0.12</text>
<text transform="translate(504.87 1380.49) scale(1.025 1)">0.14</text>
<text transform="translate(563.08 1380.49) scale(1.025 1)">0.16</text>
<text transform="translate(621.29 1380.49) scale(1.025 1)">0.18</text>
<text transform="translate(679.5 1380.49) scale(1.025 1)">0.20</text>
</g>
<text x="403.5" y="1434.2" font-size="32.68" text-anchor="middle">Thickness (μm)</text>
<text transform="translate(30.3 1275.4) rotate(-90)" font-size="32.68">Doping Concentration (cm<tspan dy="-13.72" font-size="21.89">-3</tspan><tspan dy="13.72">)</tspan></text>
<text x="416" y="1511" font-size="42" text-anchor="middle">(c)</text>
<g shape-rendering="crispEdges">
<rect x="711" y="824" width="45" height="10" fill="#ff0000"/>
<rect x="711" y="834" width="45" height="11" fill="#ff1600"/>
<rect x="711" y="845" width="45" height="11" fill="#ff2b00"/>
<rect x="711" y="856" width="45" height="10" fill="#ff4100"/>
<rect x="711" y="866" width="45" height="11" fill="#ff5700"/>
<rect x="711" y="877" width="45" height="11" fill="#ff6d00"/>
<rect x="711" y="888" width="45" height="10" fill="#ff8200"/>
<rect x="711" y="898" width="45" height="11" fill="#ff9800"/>
<rect x="711" y="909" width="45" height="10" fill="#ffae00"/>
<rect x="711" y="919" width="45" height="11" fill="#ffc300"/>
<rect x="711" y="930" width="45" height="11" fill="#ffd900"/>
<rect x="711" y="941" width="45" height="10" fill="#ffef00"/>
<rect x="711" y="951" width="45" height="11" fill="#faff00"/>
<rect x="711" y="962" width="45" height="11" fill="#e4ff00"/>
<rect x="711" y="973" width="45" height="10" fill="#ceff00"/>
<rect x="711" y="983" width="45" height="11" fill="#b8ff00"/>
<rect x="711" y="994" width="45" height="10" fill="#a3ff00"/>
<rect x="711" y="1004" width="45" height="11" fill="#8dff00"/>
<rect x="711" y="1015" width="45" height="11" fill="#77ff00"/>
<rect x="711" y="1026" width="45" height="10" fill="#62ff00"/>
<rect x="711" y="1036" width="45" height="11" fill="#4cff00"/>
<rect x="711" y="1047" width="45" height="11" fill="#36ff00"/>
<rect x="711" y="1058" width="45" height="10" fill="#21ff00"/>
<rect x="711" y="1068" width="45" height="11" fill="#0bff00"/>
<rect x="711" y="1079" width="45" height="10" fill="#00ff0b"/>
<rect x="711" y="1089" width="45" height="11" fill="#00ff21"/>
<rect x="711" y="1100" width="45" height="11" fill="#00ff36"/>
<rect x="711" y="1111" width="45" height="10" fill="#00ff4c"/>
<rect x="711" y="1121" width="45" height="11" fill="#00ff62"/>
<rect x="711" y="1132" width="45" height="11" fill="#00ff77"/>
<rect x="711" y="1143" width="45" height="10" fill="#00ff8d"/>
<rect x="711" y="1153" width="45" height="11" fill="#00ffa3"/>
<rect x="711" y="1164" width="45" height="10" fill="#00ffb8"/>
<rect x="711" y="1174" width="45" height="11" fill="#00ffce"/>
<rect x="711" y="1185" width="45" height="11" fill="#00ffe4"/>
<rect x="711" y="1196" width="45" height="10" fill="#00fffa"/>
<rect x="711" y="1206" width="45" height="11" fill="#00efff"/>
<rect x="711" y="1217" width="45" height="11" fill="#00d9ff"/>
<rect x="711" y="1228" width="45" height="10" fill="#00c3ff"/>
<rect x="711" y="1238" width="45" height="11" fill="#00aeff"/>
<rect x="711" y="1249" width="45" height="10" fill="#0098ff"/>
<rect x="711" y="1259" width="45" height="11" fill="#0082ff"/>
<rect x="711" y="1270" width="45" height="11" fill="#006dff"/>
<rect x="711" y="1281" width="45" height="10" fill="#0057ff"/>
<rect x="711" y="1291" width="45" height="11" fill="#0041ff"/>
<rect x="711" y="1302" width="45" height="11" fill="#002bff"/>
<rect x="711" y="1313" width="45" height="10" fill="#0016ff"/>
<rect x="711" y="1323" width="45" height="11" fill="#0000ff"/>
<rect x="711" y="1334" width="45" height="11" fill="#000"/>
</g>
<rect x="711.3" y="813.4" width="44.4" height="531.3" fill="none" stroke="#000" stroke-width="1.3"/>
<g font-size="26.99">
<text transform="translate(776.2 833.42) scale(1.025 1)">79.17</text>
<text transform="translate(776.2 897.17) scale(1.025 1)">79.11</text>
<text transform="translate(776.2 960.92) scale(1.025 1)">79.04</text>
<text transform="translate(776.2 1024.67) scale(1.025 1)">78.98</text>
<text transform="translate(776.2 1088.42) scale(1.025 1)">78.91</text>
<text transform="translate(776.2 1152.17) scale(1.025 1)">78.84</text>
<text transform="translate(776.2 1215.92) scale(1.025 1)">78.78</text>
<text transform="translate(776.2 1279.67) scale(1.025 1)">78.71</text>
<text transform="translate(776.2 1343.42) scale(1.025 1)">78.65</text>
</g>
<path d="M756 823.8H765.6M756 887.55H765.6M756 951.3H765.6M756 1015.05H765.6M756 1078.8H765.6M756 1142.55H765.6M756 1206.3H765.6M756 1270.05H765.6M756 1333.8H765.6" stroke="#000" stroke-width="1.4" fill="none"/>
<text x="707.5" y="792.4" font-size="32.35">FF (%)</text>
</g>
<g id="panel-d">
<g shape-rendering="crispEdges">
<rect x="1000" y="811" width="529" height="2" fill="#ff0000"/>
<rect x="1000" y="813" width="529" height="1" fill="#ff2b00"/>
<rect x="1000" y="814" width="529" height="1" fill="#ff8200"/>
<rect x="1000" y="815" width="529" height="1" fill="#ffef00"/>
<rect x="1000" y="816" width="529" height="1" fill="#a3ff00"/>
<rect x="1000" y="817" width="529" height="1" fill="#36ff00"/>
<rect x="1000" y="818" width="529" height="1" fill="#00ff21"/>
<rect x="1000" y="819" width="529" height="1" fill="#00ff62"/>
<rect x="1000" y="820" width="1" height="1" fill="#00ffa3"/>
<rect x="1001" y="820" width="3" height="1" fill="#00ffb8"/>
<rect x="1004" y="820" width="525" height="1" fill="#00ffce"/>
<rect x="1000" y="821" width="1" height="1" fill="#00ffa3"/>
<rect x="1001" y="821" width="3" height="1" fill="#00ffb8"/>
<rect x="1004" y="821" width="4" height="1" fill="#00ffce"/>
<rect x="1008" y="821" width="4" height="1" fill="#00ffe4"/>
<rect x="1012" y="821" width="6" height="1" fill="#00fffa"/>
<rect x="1018" y="821" width="511" height="1" fill="#00efff"/>
<rect x="1000" y="822" width="1" height="1" fill="#00ffa3"/>
<rect x="1001" y="822" width="3" height="1" fill="#00ffb8"/>
<rect x="1004" y="822" width="4" height="1" fill="#00ffce"/>
<rect x="1008" y="822" width="4" height="1" fill="#00ffe4"/>
<rect x="1012" y="822" width="6" height="1" fill="#00fffa"/>
<rect x="1018" y="822" width="6" height="1" fill="#00efff"/>
<rect x="1024" y="822" width="4" height="1" fill="#00d9ff"/>
<rect x="1028" y="822" width="5" height="1" fill="#00c3ff"/>
<rect x="1033" y="822" width="496" height="1" fill="#00aeff"/>
<rect x="1000" y="823" width="1" height="1" fill="#00ffa3"/>
<rect x="1001" y="823" width="3" height="1" fill="#00ffb8"/>
<rect x="1004" y="823" width="4" height="1" fill="#00ffce"/>
<rect x="1008" y="823" width="4" height="1" fill="#00ffe4"/>
<rect x="1012" y="823" width="6" height="1" fill="#00fffa"/>
<rect x="1018" y="823" width="6" height="1" fill="#00efff"/>
<rect x="1024" y="823" width="4" height="1" fill="#00d9ff"/>
<rect x="1028" y="823" width="5" height="1" fill="#00c3ff"/>
<rect x="1033" y="823" width="4" height="1" fill="#00aeff"/>
<rect x="1037" y="823" width="6" height="1" fill="#0098ff"/>
<rect x="1043" y="823" width="486" height="1" fill="#0082ff"/>
<rect x="1000" y="824" width="1" height="1" fill="#00ffa3"/>
<rect x="1001" y="824" width="3" height="1" fill="#00ffb8"/>
<rect x="1004" y="824" width="4" height="1" fill="#00ffce"/>
<rect x="1008" y="824" width="4" height="1" fill="#00ffe4"/>
<rect x="1012" y="824" width="6" height="1" fill="#00fffa"/>
<rect x="1018" y="824" width="6" height="1" fill="#00efff"/>
<rect x="1024" y="824" width="4" height="1" fill="#00d9ff"/>
<rect x="1028" y="824" width="5" height="1" fill="#00c3ff"/>
<rect x="1033" y="824" width="4" height="1" fill="#00aeff"/>
<rect x="1037" y="824" width="6" height="1" fill="#0098ff"/>
<rect x="1043" y="824" width="5" height="1" fill="#0082ff"/>
<rect x="1048" y="824" width="481" height="1" fill="#006dff"/>
<rect x="1000" y="825" width="1" height="4" fill="#00ffa3"/>
<rect x="1001" y="825" width="3" height="4" fill="#00ffb8"/>
<rect x="1004" y="825" width="4" height="4" fill="#00ffce"/>
<rect x="1008" y="825" width="4" height="4" fill="#00ffe4"/>
<rect x="1012" y="825" width="6" height="4" fill="#00fffa"/>
<rect x="1018" y="825" width="6" height="4" fill="#00efff"/>
<rect x="1024" y="825" width="4" height="4" fill="#00d9ff"/>
<rect x="1028" y="825" width="5" height="4" fill="#00c3ff"/>
<rect x="1033" y="825" width="4" height="4" fill="#00aeff"/>
<rect x="1037" y="825" width="6" height="4" fill="#0098ff"/>
<rect x="1043" y="825" width="5" height="4" fill="#0082ff"/>
<rect x="1048" y="825" width="9" height="4" fill="#006dff"/>
<rect x="1057" y="825" width="472" height="4" fill="#0057ff"/>
<rect x="1000" y="829" width="1" height="2" fill="#00ffa3"/>
<rect x="1001" y="829" width="3" height="2" fill="#00ffb8"/>
<rect x="1004" y="829" width="4" height="2" fill="#00ffce"/>
<rect x="1008" y="829" width="4" height="2" fill="#00ffe4"/>
<rect x="1012" y="829" width="6" height="2" fill="#00fffa"/>
<rect x="1018" y="829" width="6" height="2" fill="#00efff"/>
<rect x="1024" y="829" width="4" height="2" fill="#00d9ff"/>
<rect x="1028" y="829" width="5" height="2" fill="#00c3ff"/>
<rect x="1033" y="829" width="4" height="2" fill="#00aeff"/>
<rect x="1037" y="829" width="6" height="2" fill="#0098ff"/>
<rect x="1043" y="829" width="5" height="2" fill="#0082ff"/>
<rect x="1048" y="829" width="9" height="2" fill="#006dff"/>
<rect x="1057" y="829" width="17" height="2" fill="#0057ff"/>
<rect x="1074" y="829" width="455" height="2" fill="#0041ff"/>
<rect x="1000" y="831" width="1" height="487" fill="#00ffa3"/>
<rect x="1001" y="831" width="3" height="487" fill="#00ffb8"/>
<rect x="1004" y="831" width="4" height="487" fill="#00ffce"/>
<rect x="1008" y="831" width="4" height="487" fill="#00ffe4"/>
<rect x="1012" y="831" width="6" height="487" fill="#00fffa"/>
<rect x="1018" y="831" width="6" height="487" fill="#00efff"/>
<rect x="1024" y="831" width="4" height="487" fill="#00d9ff"/>
<rect x="1028" y="831" width="5" height="487" fill="#00c3ff"/>
<rect x="1033" y="831" width="4" height="487" fill="#00aeff"/>
<rect x="1037" y="831" width="6" height="487" fill="#0098ff"/>
<rect x="1043" y="831" width="5" height="487" fill="#0082ff"/>
<rect x="1048" y="831" width="9" height="487" fill="#006dff"/>
<rect x="1057" y="831" width="17" height="487" fill="#0057ff"/>
<rect x="1074" y="831" width="36" height="487" fill="#0041ff"/>
<rect x="1110" y="831" width="312" height="487" fill="#002bff"/>
<rect x="1422" y="831" width="107" height="487" fill="#0041ff"/>
</g>
<rect x="1000.5" y="811.3" width="528.5" height="506.3" fill="none" stroke="#000" stroke-width="2.3"/>
<path d="M1000.5 1317.6H990.55M1000.5 1302.36H995.38M1000.5 1293.44H995.38M1000.5 1287.12H995.38M1000.5 1282.21H995.38M1000.5 1278.2H995.38M1000.5 1274.81H995.38M1000.5 1271.88H995.38M1000.5 1269.29H995.38M1000.5 1266.97H990.55M1000.5 1251.73H995.38M1000.5 1242.81H995.38M1000.5 1236.49H995.38M1000.5 1231.58H995.38M1000.5 1227.57H995.38M1000.5 1224.18H995.38M1000.5 1221.25H995.38M1000.5 1218.66H995.38M1000.5 1216.34H990.55M1000.5 1201.1H995.38M1000.5 1192.18H995.38M1000.5 1185.86H995.38M1000.5 1180.95H995.38M1000.5 1176.94H995.38M1000.5 1173.55H995.38M1000.5 1170.62H995.38M1000.5 1168.03H995.38M1000.5 1165.71H990.55M1000.5 1150.47H995.38M1000.5 1141.55H995.38M1000.5 1135.23H995.38M1000.5 1130.32H995.38M1000.5 1126.31H995.38M1000.5 1122.92H995.38M1000.5 1119.99H995.38M1000.5 1117.4H995.38M1000.5 1115.08H990.55M1000.5 1099.84H995.38M1000.5 1090.92H995.38M1000.5 1084.6H995.38M1000.5 1079.69H995.38M1000.5 1075.68H995.38M1000.5 1072.29H995.38M1000.5 1069.36H995.38M1000.5 1066.77H995.38M1000.5 1064.45H990.55M1000.5 1049.21H995.38M1000.5 1040.29H995.38M1000.5 1033.97H995.38M1000.5 1029.06H995.38M1000.5 1025.05H995.38M1000.5 1021.66H995.38M1000.5 1018.73H995.38M1000.5 1016.14H995.38M1000.5 1013.82H990.55M1000.5 998.58H995.38M1000.5 989.66H995.38M1000.5 983.34H995.38M1000.5 978.43H995.38M1000.5 974.42H995.38M1000.5 971.03H995.38M1000.5 968.1H995.38M1000.5 965.51H995.38M1000.5 963.19H990.55M1000.5 947.95H995.38M1000.5 939.03H995.38M1000.5 932.71H995.38M1000.5 927.8H995.38M1000.5 923.79H995.38M1000.5 920.4H995.38M1000.5 917.47H995.38M1000.5 914.88H995.38M1000.5 912.56H990.55M1000.5 897.32H995.38M1000.5 888.4H995.38M1000.5 882.08H995.38M1000.5 877.17H995.38M1000.5 873.16H995.38M1000.5 869.77H995.38M1000.5 866.84H995.38M1000.5 864.25H995.38M1000.5 861.93H990.55M1000.5 846.69H995.38M1000.5 837.77H995.38M1000.5 831.45H995.38M1000.5 826.54H995.38M1000.5 822.53H995.38M1000.5 819.14H995.38M1000.5 816.21H995.38M1000.5 813.62H995.38M1000.5 811.3H990.55M1000.5 1317.6V1322.72M1028.32 1317.6V1327.55M1056.13 1317.6V1322.72M1083.95 1317.6V1327.55M1111.76 1317.6V1322.72M1139.58 1317.6V1327.55M1167.39 1317.6V1322.72M1195.21 1317.6V1327.55M1223.03 1317.6V1322.72M1250.84 1317.6V1327.55M1278.66 1317.6V1322.72M1306.47 1317.6V1327.55M1334.29 1317.6V1322.72M1362.11 1317.6V1327.55M1389.92 1317.6V1322.72M1417.74 1317.6V1327.55M1445.55 1317.6V1322.72M1473.37 1317.6V1327.55M1501.18 1317.6V1322.72M1529 1317.6V1327.55" stroke="#000" stroke-width="2.3" fill="none"/>
<g font-size="25.79">
<text transform="translate(926.27 1326.92) scale(1.04 1)">1E11</text>
<text transform="translate(926.27 1276.29) scale(1.04 1)">1E12</text>
<text transform="translate(926.27 1225.66) scale(1.04 1)">1E13</text>
<text transform="translate(926.27 1175.03) scale(1.04 1)">1E14</text>
<text transform="translate(926.27 1124.4) scale(1.04 1)">1E15</text>
<text transform="translate(926.27 1073.77) scale(1.04 1)">1E16</text>
<text transform="translate(926.27 1023.14) scale(1.04 1)">1E17</text>
<text transform="translate(926.27 972.51) scale(1.04 1)">1E18</text>
<text transform="translate(926.27 921.88) scale(1.04 1)">1E19</text>
<text transform="translate(926.27 871.25) scale(1.04 1)">1E20</text>
<text transform="translate(926.27 820.62) scale(1.04 1)">1E21</text>
</g>
<g font-size="25.79" text-anchor="middle">
<text transform="translate(1028.32 1355.7) scale(1.04 1)">0.02</text>
<text transform="translate(1083.95 1355.7) scale(1.04 1)">0.04</text>
<text transform="translate(1139.58 1355.7) scale(1.04 1)">0.06</text>
<text transform="translate(1195.21 1355.7) scale(1.04 1)">0.08</text>
<text transform="translate(1250.84 1355.7) scale(1.04 1)">0.10</text>
<text transform="translate(1306.47 1355.7) scale(1.04 1)">0.12</text>
<text transform="translate(1362.11 1355.7) scale(1.04 1)">0.14</text>
<text transform="translate(1417.74 1355.7) scale(1.04 1)">0.16</text>
<text transform="translate(1473.37 1355.7) scale(1.04 1)">0.18</text>
<text transform="translate(1529 1355.7) scale(1.04 1)">0.20</text>
</g>
<text x="1265.25" y="1407.5" font-size="31.22" text-anchor="middle">Thickness (μm)</text>
<text transform="translate(907.9 1255.8) rotate(-90)" font-size="31.22">Doping Concentration (cm<tspan dy="-13.11" font-size="20.92">-3</tspan><tspan dy="13.11">)</tspan></text>
<text x="1296.5" y="1511" font-size="42" text-anchor="middle">(d)</text>
<g shape-rendering="crispEdges">
<rect x="1552" y="818" width="43" height="10" fill="#ff0000"/>
<rect x="1552" y="828" width="43" height="10" fill="#ff1600"/>
<rect x="1552" y="838" width="43" height="10" fill="#ff2b00"/>
<rect x="1552" y="848" width="43" height="10" fill="#ff4100"/>
<rect x="1552" y="858" width="43" height="10" fill="#ff5700"/>
<rect x="1552" y="868" width="43" height="11" fill="#ff6d00"/>
<rect x="1552" y="879" width="43" height="10" fill="#ff8200"/>
<rect x="1552" y="889" width="43" height="10" fill="#ff9800"/>
<rect x="1552" y="899" width="43" height="10" fill="#ffae00"/>
<rect x="1552" y="909" width="43" height="10" fill="#ffc300"/>
<rect x="1552" y="919" width="43" height="10" fill="#ffd900"/>
<rect x="1552" y="929" width="43" height="10" fill="#ffef00"/>
<rect x="1552" y="939" width="43" height="11" fill="#faff00"/>
<rect x="1552" y="950" width="43" height="10" fill="#e4ff00"/>
<rect x="1552" y="960" width="43" height="10" fill="#ceff00"/>
<rect x="1552" y="970" width="43" height="10" fill="#b8ff00"/>
<rect x="1552" y="980" width="43" height="10" fill="#a3ff00"/>
<rect x="1552" y="990" width="43" height="10" fill="#8dff00"/>
<rect x="1552" y="1000" width="43" height="10" fill="#77ff00"/>
<rect x="1552" y="1010" width="43" height="10" fill="#62ff00"/>
<rect x="1552" y="1020" width="43" height="11" fill="#4cff00"/>
<rect x="1552" y="1031" width="43" height="10" fill="#36ff00"/>
<rect x="1552" y="1041" width="43" height="10" fill="#21ff00"/>
<rect x="1552" y="1051" width="43" height="10" fill="#0bff00"/>
<rect x="1552" y="1061" width="43" height="10" fill="#00ff0b"/>
<rect x="1552" y="1071" width="43" height="10" fill="#00ff21"/>
<rect x="1552" y="1081" width="43" height="10" fill="#00ff36"/>
<rect x="1552" y="1091" width="43" height="11" fill="#00ff4c"/>
<rect x="1552" y="1102" width="43" height="10" fill="#00ff62"/>
<rect x="1552" y="1112" width="43" height="10" fill="#00ff77"/>
<rect x="1552" y="1122" width="43" height="10" fill="#00ff8d"/>
<rect x="1552" y="1132" width="43" height="10" fill="#00ffa3"/>
<rect x="1552" y="1142" width="43" height="10" fill="#00ffb8"/>
<rect x="1552" y="1152" width="43" height="10" fill="#00ffce"/>
<rect x="1552" y="1162" width="43" height="11" fill="#00ffe4"/>
<rect x="1552" y="1173" width="43" height="10" fill="#00fffa"/>
<rect x="1552" y="1183" width="43" height="10" fill="#00efff"/>
<rect x="1552" y="1193" width="43" height="10" fill="#00d9ff"/>
<rect x="1552" y="1203" width="43" height="10" fill="#00c3ff"/>
<rect x="1552" y="1213" width="43" height="10" fill="#00aeff"/>
<rect x="1552" y="1223" width="43" height="10" fill="#0098ff"/>
<rect x="1552" y="1233" width="43" height="11" fill="#0082ff"/>
<rect x="1552" y="1244" width="43" height="10" fill="#006dff"/>
<rect x="1552" y="1254" width="43" height="10" fill="#0057ff"/>
<rect x="1552" y="1264" width="43" height="10" fill="#0041ff"/>
<rect x="1552" y="1274" width="43" height="10" fill="#002bff"/>
<rect x="1552" y="1284" width="43" height="10" fill="#0016ff"/>
<rect x="1552" y="1294" width="43" height="10" fill="#0000ff"/>
<rect x="1552" y="1304" width="43" height="11" fill="#000"/>
</g>
<rect x="1551.8" y="807.8" width="42.5" height="506.5" fill="none" stroke="#000" stroke-width="1.3"/>
<g font-size="25.79">
<text transform="translate(1613 826.22) scale(1.04 1)">32.37</text>
<text transform="translate(1613 887.06) scale(1.04 1)">32.32</text>
<text transform="translate(1613 947.89) scale(1.04 1)">32.27</text>
<text transform="translate(1613 1008.73) scale(1.04 1)">32.22</text>
<text transform="translate(1613 1069.57) scale(1.04 1)">32.17</text>
<text transform="translate(1613 1130.41) scale(1.04 1)">32.12</text>
<text transform="translate(1613 1191.24) scale(1.04 1)">32.07</text>
<text transform="translate(1613 1252.08) scale(1.04 1)">32.02</text>
<text transform="translate(1613 1312.92) scale(1.04 1)">31.97</text>
</g>
<path d="M1594.6 817.7H1603.78M1594.6 878.54H1603.78M1594.6 939.38H1603.78M1594.6 1000.21H1603.78M1594.6 1061.05H1603.78M1594.6 1121.89H1603.78M1594.6 1182.73H1603.78M1594.6 1243.56H1603.78M1594.6 1304.4H1603.78" stroke="#000" stroke-width="1.4" fill="none"/>
<text x="1542.5" y="787.6" font-size="30.91">PCE (%)</text>
</g>
</svg></body></html>
